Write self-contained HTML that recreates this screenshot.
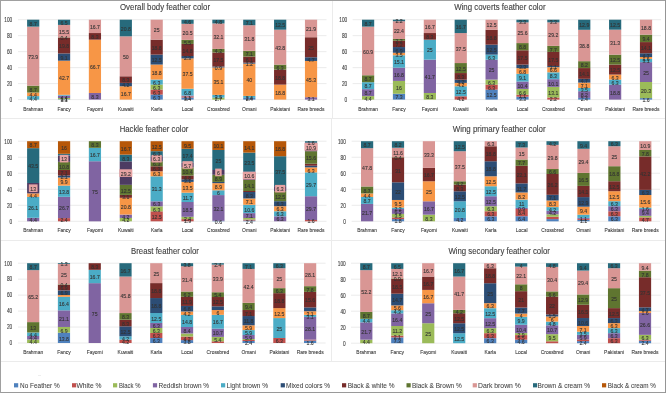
<!DOCTYPE html>
<html><head><meta charset="utf-8"><style>
html,body{margin:0;padding:0;background:#fff;width:666px;height:393px;overflow:hidden}
svg{display:block}
#wrap{width:666px;height:393px;will-change:transform}
text{font-family:"Liberation Sans",sans-serif}
</style></head><body><div id="wrap">
<svg width="666" height="393" viewBox="0 0 666 393">
<rect x='0' y='0' width='666' height='393' fill='#fff'/>
<rect x='332' y='0' width='1' height='118' fill='#EBEBEB'/>
<rect x='331' y='118' width='1' height='243' fill='#EBEBEB'/>
<rect x='1' y='118' width='664' height='1' fill='#EBEBEB'/>
<rect x='1' y='240' width='664' height='1' fill='#EBEBEB'/>
<rect x='1' y='361' width='664' height='1' fill='#EBEBEB'/>
<rect x='18.00' y='99.10' width='308.50' height='1' fill='#EBEBEB'/>
<text x='12.20' y='101.90' font-size='6.4' text-anchor='end' fill='#404040' textLength='2.64' lengthAdjust='spacingAndGlyphs' stroke='#404040' stroke-width='0.12'>0</text>
<rect x='18.00' y='83.12' width='308.50' height='1' fill='#EBEBEB'/>
<text x='12.20' y='85.92' font-size='6.4' text-anchor='end' fill='#404040' textLength='5.28' lengthAdjust='spacingAndGlyphs' stroke='#404040' stroke-width='0.12'>20</text>
<rect x='18.00' y='67.14' width='308.50' height='1' fill='#EBEBEB'/>
<text x='12.20' y='69.94' font-size='6.4' text-anchor='end' fill='#404040' textLength='5.28' lengthAdjust='spacingAndGlyphs' stroke='#404040' stroke-width='0.12'>40</text>
<rect x='18.00' y='51.16' width='308.50' height='1' fill='#EBEBEB'/>
<text x='12.20' y='53.96' font-size='6.4' text-anchor='end' fill='#404040' textLength='5.28' lengthAdjust='spacingAndGlyphs' stroke='#404040' stroke-width='0.12'>60</text>
<rect x='18.00' y='35.18' width='308.50' height='1' fill='#EBEBEB'/>
<text x='12.20' y='37.98' font-size='6.4' text-anchor='end' fill='#404040' textLength='5.28' lengthAdjust='spacingAndGlyphs' stroke='#404040' stroke-width='0.12'>80</text>
<rect x='18.00' y='19.20' width='308.50' height='1' fill='#EBEBEB'/>
<text x='12.20' y='22.00' font-size='6.4' text-anchor='end' fill='#404040' textLength='7.92' lengthAdjust='spacingAndGlyphs' stroke='#404040' stroke-width='0.12'>100</text>
<text x='120.00' y='9.80' font-size='8.8' text-anchor='start' fill='#404040' textLength='90.00' lengthAdjust='spacingAndGlyphs' stroke='#404040' stroke-width='0.12'>Overall body feather color</text>
<rect x='27.10' y='96.09' width='12.20' height='3.52' fill='#4BACC6'/>
<rect x='27.10' y='92.58' width='12.20' height='3.52' fill='#F79646'/>
<rect x='27.10' y='85.63' width='12.20' height='6.95' fill='#5F7530'/>
<rect x='27.10' y='26.64' width='12.20' height='59.00' fill='#D99694'/>
<rect x='27.10' y='19.70' width='12.20' height='6.95' fill='#276A7C'/>
<text x='33.20' y='100.54' font-size='6.0' text-anchor='middle' fill='#333333' textLength='7.17' lengthAdjust='spacingAndGlyphs' stroke='#333333' stroke-width='0.1'>4.4</text>
<text x='33.20' y='97.03' font-size='6.0' text-anchor='middle' fill='#333333' textLength='7.17' lengthAdjust='spacingAndGlyphs' stroke='#333333' stroke-width='0.1'>4.4</text>
<text x='33.20' y='91.80' font-size='6.0' text-anchor='middle' fill='#333333' textLength='7.17' lengthAdjust='spacingAndGlyphs' stroke='#333333' stroke-width='0.1'>8.7</text>
<text x='33.20' y='58.84' font-size='6.0' text-anchor='middle' fill='#333333' textLength='10.04' lengthAdjust='spacingAndGlyphs' stroke='#333333' stroke-width='0.1'>73.9</text>
<text x='33.20' y='25.87' font-size='6.0' text-anchor='middle' fill='#333333' textLength='7.17' lengthAdjust='spacingAndGlyphs' stroke='#333333' stroke-width='0.1'>8.7</text>
<text x='33.20' y='110.70' font-size='6.0' text-anchor='middle' fill='#404040' textLength='19.88' lengthAdjust='spacingAndGlyphs' stroke='#404040' stroke-width='0.12'>Brahman</text>
<rect x='57.97' y='99.20' width='12.20' height='0.41' fill='#4F81BD'/>
<rect x='57.97' y='98.00' width='12.20' height='1.21' fill='#9BBB59'/>
<rect x='57.97' y='95.60' width='12.20' height='2.41' fill='#8064A2'/>
<rect x='57.97' y='94.81' width='12.20' height='0.81' fill='#4BACC6'/>
<rect x='57.97' y='60.69' width='12.20' height='34.13' fill='#F79646'/>
<rect x='57.97' y='53.42' width='12.20' height='7.28' fill='#2C4D75'/>
<rect x='57.97' y='37.60' width='12.20' height='15.83' fill='#772C2A'/>
<rect x='57.97' y='37.28' width='12.20' height='0.33' fill='#5F7530'/>
<rect x='57.97' y='24.89' width='12.20' height='12.39' fill='#D99694'/>
<rect x='57.97' y='19.70' width='12.20' height='5.20' fill='#276A7C'/>
<text x='64.07' y='102.10' font-size='6.0' text-anchor='middle' fill='#333333' textLength='7.17' lengthAdjust='spacingAndGlyphs' stroke='#333333' stroke-width='0.1'>1.1</text>
<text x='64.07' y='101.30' font-size='6.0' text-anchor='middle' fill='#333333' textLength='7.17' lengthAdjust='spacingAndGlyphs' stroke='#333333' stroke-width='0.1'>1.1</text>
<text x='64.07' y='99.50' font-size='6.0' text-anchor='middle' fill='#333333' textLength='7.17' lengthAdjust='spacingAndGlyphs' stroke='#333333' stroke-width='0.1'>4.4</text>
<text x='64.07' y='80.45' font-size='6.0' text-anchor='middle' fill='#333333' textLength='10.04' lengthAdjust='spacingAndGlyphs' stroke='#333333' stroke-width='0.1'>42.7</text>
<text x='64.07' y='59.75' font-size='6.0' text-anchor='middle' fill='#333333' textLength='7.17' lengthAdjust='spacingAndGlyphs' stroke='#333333' stroke-width='0.1'>9.1</text>
<text x='64.07' y='48.21' font-size='6.0' text-anchor='middle' fill='#333333' textLength='10.04' lengthAdjust='spacingAndGlyphs' stroke='#333333' stroke-width='0.1'>19.8</text>
<text x='64.07' y='40.14' font-size='6.0' text-anchor='middle' fill='#333333' textLength='7.17' lengthAdjust='spacingAndGlyphs' stroke='#333333' stroke-width='0.1'>0.4</text>
<text x='64.07' y='33.79' font-size='6.0' text-anchor='middle' fill='#333333' textLength='10.04' lengthAdjust='spacingAndGlyphs' stroke='#333333' stroke-width='0.1'>15.5</text>
<text x='64.07' y='25.00' font-size='6.0' text-anchor='middle' fill='#333333' textLength='7.17' lengthAdjust='spacingAndGlyphs' stroke='#333333' stroke-width='0.1'>6.5</text>
<text x='64.07' y='110.70' font-size='6.0' text-anchor='middle' fill='#404040' textLength='13.34' lengthAdjust='spacingAndGlyphs' stroke='#404040' stroke-width='0.12'>Fancy</text>
<rect x='88.84' y='92.97' width='12.20' height='6.64' fill='#8064A2'/>
<rect x='88.84' y='39.68' width='12.20' height='53.30' fill='#F79646'/>
<rect x='88.84' y='33.04' width='12.20' height='6.64' fill='#772C2A'/>
<rect x='88.84' y='19.70' width='12.20' height='13.35' fill='#D99694'/>
<text x='94.94' y='98.98' font-size='6.0' text-anchor='middle' fill='#333333' textLength='7.17' lengthAdjust='spacingAndGlyphs' stroke='#333333' stroke-width='0.1'>8.3</text>
<text x='94.94' y='69.02' font-size='6.0' text-anchor='middle' fill='#333333' textLength='10.04' lengthAdjust='spacingAndGlyphs' stroke='#333333' stroke-width='0.1'>66.7</text>
<text x='94.94' y='39.06' font-size='6.0' text-anchor='middle' fill='#333333' textLength='7.17' lengthAdjust='spacingAndGlyphs' stroke='#333333' stroke-width='0.1'>8.3</text>
<text x='94.94' y='29.07' font-size='6.0' text-anchor='middle' fill='#333333' textLength='10.04' lengthAdjust='spacingAndGlyphs' stroke='#333333' stroke-width='0.1'>16.7</text>
<text x='94.94' y='110.70' font-size='6.0' text-anchor='middle' fill='#404040' textLength='16.06' lengthAdjust='spacingAndGlyphs' stroke='#404040' stroke-width='0.12'>Fayomi</text>
<rect x='119.71' y='86.26' width='12.20' height='13.35' fill='#F79646'/>
<rect x='119.71' y='82.90' width='12.20' height='3.37' fill='#2C4D75'/>
<rect x='119.71' y='76.27' width='12.20' height='6.64' fill='#772C2A'/>
<rect x='119.71' y='36.32' width='12.20' height='39.96' fill='#D99694'/>
<rect x='119.71' y='19.70' width='12.20' height='16.63' fill='#276A7C'/>
<text x='125.81' y='95.63' font-size='6.0' text-anchor='middle' fill='#333333' textLength='10.04' lengthAdjust='spacingAndGlyphs' stroke='#333333' stroke-width='0.1'>16.7</text>
<text x='125.81' y='87.28' font-size='6.0' text-anchor='middle' fill='#333333' textLength='7.17' lengthAdjust='spacingAndGlyphs' stroke='#333333' stroke-width='0.1'>4.2</text>
<text x='125.81' y='82.29' font-size='6.0' text-anchor='middle' fill='#333333' textLength='7.17' lengthAdjust='spacingAndGlyphs' stroke='#333333' stroke-width='0.1'>8.3</text>
<text x='125.81' y='58.99' font-size='6.0' text-anchor='middle' fill='#333333' textLength='5.74' lengthAdjust='spacingAndGlyphs' stroke='#333333' stroke-width='0.1'>50</text>
<text x='125.81' y='30.71' font-size='6.0' text-anchor='middle' fill='#333333' textLength='10.04' lengthAdjust='spacingAndGlyphs' stroke='#333333' stroke-width='0.1'>20.8</text>
<text x='125.81' y='110.70' font-size='6.0' text-anchor='middle' fill='#404040' textLength='15.80' lengthAdjust='spacingAndGlyphs' stroke='#404040' stroke-width='0.12'>Kuwaiti</text>
<rect x='150.58' y='94.58' width='12.20' height='5.03' fill='#4F81BD'/>
<rect x='150.58' y='89.56' width='12.20' height='5.03' fill='#C0504D'/>
<rect x='150.58' y='84.54' width='12.20' height='5.03' fill='#9BBB59'/>
<rect x='150.58' y='79.53' width='12.20' height='5.03' fill='#4BACC6'/>
<rect x='150.58' y='64.55' width='12.20' height='14.99' fill='#F79646'/>
<rect x='150.58' y='54.59' width='12.20' height='9.97' fill='#2C4D75'/>
<rect x='150.58' y='39.62' width='12.20' height='14.99' fill='#772C2A'/>
<rect x='150.58' y='19.70' width='12.20' height='19.93' fill='#D99694'/>
<text x='156.68' y='99.79' font-size='6.0' text-anchor='middle' fill='#333333' textLength='7.17' lengthAdjust='spacingAndGlyphs' stroke='#333333' stroke-width='0.1'>6.3</text>
<text x='156.68' y='94.77' font-size='6.0' text-anchor='middle' fill='#333333' textLength='7.17' lengthAdjust='spacingAndGlyphs' stroke='#333333' stroke-width='0.1'>6.3</text>
<text x='156.68' y='89.75' font-size='6.0' text-anchor='middle' fill='#333333' textLength='7.17' lengthAdjust='spacingAndGlyphs' stroke='#333333' stroke-width='0.1'>6.3</text>
<text x='156.68' y='84.73' font-size='6.0' text-anchor='middle' fill='#333333' textLength='7.17' lengthAdjust='spacingAndGlyphs' stroke='#333333' stroke-width='0.1'>6.3</text>
<text x='156.68' y='74.74' font-size='6.0' text-anchor='middle' fill='#333333' textLength='10.04' lengthAdjust='spacingAndGlyphs' stroke='#333333' stroke-width='0.1'>18.8</text>
<text x='156.68' y='62.27' font-size='6.0' text-anchor='middle' fill='#333333' textLength='10.04' lengthAdjust='spacingAndGlyphs' stroke='#333333' stroke-width='0.1'>12.5</text>
<text x='156.68' y='49.80' font-size='6.0' text-anchor='middle' fill='#333333' textLength='10.04' lengthAdjust='spacingAndGlyphs' stroke='#333333' stroke-width='0.1'>18.8</text>
<text x='156.68' y='32.36' font-size='6.0' text-anchor='middle' fill='#333333' textLength='5.74' lengthAdjust='spacingAndGlyphs' stroke='#333333' stroke-width='0.1'>25</text>
<text x='156.68' y='110.70' font-size='6.0' text-anchor='middle' fill='#404040' textLength='11.44' lengthAdjust='spacingAndGlyphs' stroke='#404040' stroke-width='0.12'>Karla</text>
<rect x='181.45' y='97.51' width='12.20' height='2.10' fill='#4F81BD'/>
<rect x='181.45' y='96.30' width='12.20' height='1.22' fill='#C0504D'/>
<rect x='181.45' y='95.50' width='12.20' height='0.81' fill='#8064A2'/>
<rect x='181.45' y='88.74' width='12.20' height='6.77' fill='#4BACC6'/>
<rect x='181.45' y='58.40' width='12.20' height='30.34' fill='#F79646'/>
<rect x='181.45' y='55.99' width='12.20' height='2.42' fill='#2C4D75'/>
<rect x='181.45' y='43.92' width='12.20' height='12.08' fill='#772C2A'/>
<rect x='181.45' y='39.90' width='12.20' height='4.03' fill='#5F7530'/>
<rect x='181.45' y='23.80' width='12.20' height='16.10' fill='#D99694'/>
<rect x='181.45' y='19.70' width='12.20' height='4.11' fill='#276A7C'/>
<text x='187.55' y='101.25' font-size='6.0' text-anchor='middle' fill='#333333' textLength='7.17' lengthAdjust='spacingAndGlyphs' stroke='#333333' stroke-width='0.1'>3.4</text>
<text x='187.55' y='99.60' font-size='6.0' text-anchor='middle' fill='#333333' textLength='7.17' lengthAdjust='spacingAndGlyphs' stroke='#333333' stroke-width='0.1'>1.1</text>
<text x='187.55' y='94.82' font-size='6.0' text-anchor='middle' fill='#333333' textLength='7.17' lengthAdjust='spacingAndGlyphs' stroke='#333333' stroke-width='0.1'>6.8</text>
<text x='187.55' y='76.27' font-size='6.0' text-anchor='middle' fill='#333333' textLength='10.04' lengthAdjust='spacingAndGlyphs' stroke='#333333' stroke-width='0.1'>37.5</text>
<text x='187.55' y='59.90' font-size='6.0' text-anchor='middle' fill='#333333' textLength='7.17' lengthAdjust='spacingAndGlyphs' stroke='#333333' stroke-width='0.1'>2.3</text>
<text x='187.55' y='52.65' font-size='6.0' text-anchor='middle' fill='#333333' textLength='10.04' lengthAdjust='spacingAndGlyphs' stroke='#333333' stroke-width='0.1'>14.8</text>
<text x='187.55' y='44.61' font-size='6.0' text-anchor='middle' fill='#333333' textLength='7.17' lengthAdjust='spacingAndGlyphs' stroke='#333333' stroke-width='0.1'>5.5</text>
<text x='187.55' y='34.55' font-size='6.0' text-anchor='middle' fill='#333333' textLength='10.04' lengthAdjust='spacingAndGlyphs' stroke='#333333' stroke-width='0.1'>20.5</text>
<text x='187.55' y='24.45' font-size='6.0' text-anchor='middle' fill='#333333' textLength='7.17' lengthAdjust='spacingAndGlyphs' stroke='#333333' stroke-width='0.1'>4.6</text>
<text x='187.55' y='110.70' font-size='6.0' text-anchor='middle' fill='#404040' textLength='11.71' lengthAdjust='spacingAndGlyphs' stroke='#404040' stroke-width='0.12'>Local</text>
<rect x='212.32' y='97.68' width='12.20' height='1.93' fill='#9BBB59'/>
<rect x='212.32' y='94.88' width='12.20' height='2.81' fill='#4BACC6'/>
<rect x='212.32' y='67.42' width='12.20' height='27.47' fill='#F79646'/>
<rect x='212.32' y='66.54' width='12.20' height='0.89' fill='#2C4D75'/>
<rect x='212.32' y='52.52' width='12.20' height='14.02' fill='#772C2A'/>
<rect x='212.32' y='48.92' width='12.20' height='3.61' fill='#5F7530'/>
<rect x='212.32' y='23.46' width='12.20' height='25.47' fill='#D99694'/>
<rect x='212.32' y='19.70' width='12.20' height='3.77' fill='#276A7C'/>
<text x='218.42' y='101.34' font-size='6.0' text-anchor='middle' fill='#333333' textLength='7.17' lengthAdjust='spacingAndGlyphs' stroke='#333333' stroke-width='0.1'>2.7</text>
<text x='218.42' y='98.98' font-size='6.0' text-anchor='middle' fill='#333333' textLength='7.17' lengthAdjust='spacingAndGlyphs' stroke='#333333' stroke-width='0.1'>3.5</text>
<text x='218.42' y='83.85' font-size='6.0' text-anchor='middle' fill='#333333' textLength='10.04' lengthAdjust='spacingAndGlyphs' stroke='#333333' stroke-width='0.1'>35.1</text>
<text x='218.42' y='69.68' font-size='6.0' text-anchor='middle' fill='#333333' textLength='7.17' lengthAdjust='spacingAndGlyphs' stroke='#333333' stroke-width='0.1'>0.9</text>
<text x='218.42' y='62.23' font-size='6.0' text-anchor='middle' fill='#333333' textLength='10.04' lengthAdjust='spacingAndGlyphs' stroke='#333333' stroke-width='0.1'>17.5</text>
<text x='218.42' y='53.42' font-size='6.0' text-anchor='middle' fill='#333333' textLength='7.17' lengthAdjust='spacingAndGlyphs' stroke='#333333' stroke-width='0.1'>4.2</text>
<text x='218.42' y='38.89' font-size='6.0' text-anchor='middle' fill='#333333' textLength='10.04' lengthAdjust='spacingAndGlyphs' stroke='#333333' stroke-width='0.1'>32.1</text>
<text x='218.42' y='24.28' font-size='6.0' text-anchor='middle' fill='#333333' textLength='7.17' lengthAdjust='spacingAndGlyphs' stroke='#333333' stroke-width='0.1'>4.8</text>
<text x='218.42' y='110.70' font-size='6.0' text-anchor='middle' fill='#404040' textLength='22.60' lengthAdjust='spacingAndGlyphs' stroke='#404040' stroke-width='0.12'>Crossbred</text>
<rect x='243.19' y='97.83' width='12.20' height='1.78' fill='#4F81BD'/>
<rect x='243.19' y='95.91' width='12.20' height='1.94' fill='#4BACC6'/>
<rect x='243.19' y='63.62' width='12.20' height='32.29' fill='#F79646'/>
<rect x='243.19' y='62.66' width='12.20' height='0.97' fill='#2C4D75'/>
<rect x='243.19' y='56.56' width='12.20' height='6.11' fill='#772C2A'/>
<rect x='243.19' y='50.78' width='12.20' height='5.79' fill='#5F7530'/>
<rect x='243.19' y='25.24' width='12.20' height='25.55' fill='#D99694'/>
<rect x='243.19' y='19.70' width='12.20' height='5.55' fill='#276A7C'/>
<text x='249.29' y='101.42' font-size='6.0' text-anchor='middle' fill='#333333' textLength='7.17' lengthAdjust='spacingAndGlyphs' stroke='#333333' stroke-width='0.1'>2.4</text>
<text x='249.29' y='99.57' font-size='6.0' text-anchor='middle' fill='#333333' textLength='7.17' lengthAdjust='spacingAndGlyphs' stroke='#333333' stroke-width='0.1'>2.4</text>
<text x='249.29' y='82.47' font-size='6.0' text-anchor='middle' fill='#333333' textLength='5.74' lengthAdjust='spacingAndGlyphs' stroke='#333333' stroke-width='0.1'>40</text>
<text x='249.29' y='65.84' font-size='6.0' text-anchor='middle' fill='#333333' textLength='7.17' lengthAdjust='spacingAndGlyphs' stroke='#333333' stroke-width='0.1'>1.2</text>
<text x='249.29' y='62.31' font-size='6.0' text-anchor='middle' fill='#333333' textLength='7.17' lengthAdjust='spacingAndGlyphs' stroke='#333333' stroke-width='0.1'>6.1</text>
<text x='249.29' y='56.37' font-size='6.0' text-anchor='middle' fill='#333333' textLength='7.17' lengthAdjust='spacingAndGlyphs' stroke='#333333' stroke-width='0.1'>7.1</text>
<text x='249.29' y='40.71' font-size='6.0' text-anchor='middle' fill='#333333' textLength='10.04' lengthAdjust='spacingAndGlyphs' stroke='#333333' stroke-width='0.1'>31.8</text>
<text x='249.29' y='25.17' font-size='6.0' text-anchor='middle' fill='#333333' textLength='7.17' lengthAdjust='spacingAndGlyphs' stroke='#333333' stroke-width='0.1'>7.1</text>
<text x='249.29' y='110.70' font-size='6.0' text-anchor='middle' fill='#404040' textLength='14.43' lengthAdjust='spacingAndGlyphs' stroke='#404040' stroke-width='0.12'>Omani</text>
<rect x='274.06' y='84.61' width='12.20' height='15.00' fill='#F79646'/>
<rect x='274.06' y='69.62' width='12.20' height='15.00' fill='#772C2A'/>
<rect x='274.06' y='64.59' width='12.20' height='5.03' fill='#5F7530'/>
<rect x='274.06' y='29.67' width='12.20' height='34.94' fill='#D99694'/>
<rect x='274.06' y='19.70' width='12.20' height='9.98' fill='#276A7C'/>
<text x='280.16' y='94.80' font-size='6.0' text-anchor='middle' fill='#333333' textLength='10.04' lengthAdjust='spacingAndGlyphs' stroke='#333333' stroke-width='0.1'>18.8</text>
<text x='280.16' y='79.81' font-size='6.0' text-anchor='middle' fill='#333333' textLength='10.04' lengthAdjust='spacingAndGlyphs' stroke='#333333' stroke-width='0.1'>18.8</text>
<text x='280.16' y='69.81' font-size='6.0' text-anchor='middle' fill='#333333' textLength='7.17' lengthAdjust='spacingAndGlyphs' stroke='#333333' stroke-width='0.1'>6.3</text>
<text x='280.16' y='49.83' font-size='6.0' text-anchor='middle' fill='#333333' textLength='10.04' lengthAdjust='spacingAndGlyphs' stroke='#333333' stroke-width='0.1'>43.8</text>
<text x='280.16' y='27.38' font-size='6.0' text-anchor='middle' fill='#333333' textLength='10.04' lengthAdjust='spacingAndGlyphs' stroke='#333333' stroke-width='0.1'>12.5</text>
<text x='280.16' y='110.70' font-size='6.0' text-anchor='middle' fill='#404040' textLength='19.88' lengthAdjust='spacingAndGlyphs' stroke='#404040' stroke-width='0.12'>Pakistani</text>
<rect x='304.93' y='97.20' width='12.20' height='2.41' fill='#8064A2'/>
<rect x='304.93' y='60.93' width='12.20' height='36.28' fill='#F79646'/>
<rect x='304.93' y='57.25' width='12.20' height='3.69' fill='#2C4D75'/>
<rect x='304.93' y='37.23' width='12.20' height='20.03' fill='#772C2A'/>
<rect x='304.93' y='19.70' width='12.20' height='17.54' fill='#D99694'/>
<text x='311.03' y='101.10' font-size='6.0' text-anchor='middle' fill='#333333' textLength='7.17' lengthAdjust='spacingAndGlyphs' stroke='#333333' stroke-width='0.1'>3.1</text>
<text x='311.03' y='81.76' font-size='6.0' text-anchor='middle' fill='#333333' textLength='10.04' lengthAdjust='spacingAndGlyphs' stroke='#333333' stroke-width='0.1'>45.3</text>
<text x='311.03' y='61.79' font-size='6.0' text-anchor='middle' fill='#333333' textLength='7.17' lengthAdjust='spacingAndGlyphs' stroke='#333333' stroke-width='0.1'>4.7</text>
<text x='311.03' y='49.94' font-size='6.0' text-anchor='middle' fill='#333333' textLength='5.74' lengthAdjust='spacingAndGlyphs' stroke='#333333' stroke-width='0.1'>25</text>
<text x='311.03' y='31.17' font-size='6.0' text-anchor='middle' fill='#333333' textLength='10.04' lengthAdjust='spacingAndGlyphs' stroke='#333333' stroke-width='0.1'>21.9</text>
<text x='311.03' y='110.70' font-size='6.0' text-anchor='middle' fill='#404040' textLength='26.96' lengthAdjust='spacingAndGlyphs' stroke='#404040' stroke-width='0.12'>Rare breeds</text>
<rect x='352.60' y='99.10' width='308.40' height='1' fill='#EBEBEB'/>
<text x='347.20' y='101.90' font-size='6.4' text-anchor='end' fill='#404040' textLength='2.64' lengthAdjust='spacingAndGlyphs' stroke='#404040' stroke-width='0.12'>0</text>
<rect x='352.60' y='83.12' width='308.40' height='1' fill='#EBEBEB'/>
<text x='347.20' y='85.92' font-size='6.4' text-anchor='end' fill='#404040' textLength='5.28' lengthAdjust='spacingAndGlyphs' stroke='#404040' stroke-width='0.12'>20</text>
<rect x='352.60' y='67.14' width='308.40' height='1' fill='#EBEBEB'/>
<text x='347.20' y='69.94' font-size='6.4' text-anchor='end' fill='#404040' textLength='5.28' lengthAdjust='spacingAndGlyphs' stroke='#404040' stroke-width='0.12'>40</text>
<rect x='352.60' y='51.16' width='308.40' height='1' fill='#EBEBEB'/>
<text x='347.20' y='53.96' font-size='6.4' text-anchor='end' fill='#404040' textLength='5.28' lengthAdjust='spacingAndGlyphs' stroke='#404040' stroke-width='0.12'>60</text>
<rect x='352.60' y='35.18' width='308.40' height='1' fill='#EBEBEB'/>
<text x='347.20' y='37.98' font-size='6.4' text-anchor='end' fill='#404040' textLength='5.28' lengthAdjust='spacingAndGlyphs' stroke='#404040' stroke-width='0.12'>80</text>
<rect x='352.60' y='19.20' width='308.40' height='1' fill='#EBEBEB'/>
<text x='347.20' y='22.00' font-size='6.4' text-anchor='end' fill='#404040' textLength='7.92' lengthAdjust='spacingAndGlyphs' stroke='#404040' stroke-width='0.12'>100</text>
<text x='454.20' y='10.00' font-size='8.8' text-anchor='start' fill='#404040' textLength='91.40' lengthAdjust='spacingAndGlyphs' stroke='#404040' stroke-width='0.12'>Wing coverts feather color</text>
<rect x='362.00' y='96.09' width='12.20' height='3.52' fill='#9BBB59'/>
<rect x='362.00' y='89.14' width='12.20' height='6.95' fill='#8064A2'/>
<rect x='362.00' y='82.20' width='12.20' height='6.95' fill='#4BACC6'/>
<rect x='362.00' y='75.25' width='12.20' height='6.95' fill='#5F7530'/>
<rect x='362.00' y='26.64' width='12.20' height='48.62' fill='#D99694'/>
<rect x='362.00' y='19.70' width='12.20' height='6.95' fill='#276A7C'/>
<text x='368.10' y='100.54' font-size='6.0' text-anchor='middle' fill='#333333' textLength='7.17' lengthAdjust='spacingAndGlyphs' stroke='#333333' stroke-width='0.1'>4.4</text>
<text x='368.10' y='95.32' font-size='6.0' text-anchor='middle' fill='#333333' textLength='7.17' lengthAdjust='spacingAndGlyphs' stroke='#333333' stroke-width='0.1'>8.7</text>
<text x='368.10' y='88.37' font-size='6.0' text-anchor='middle' fill='#333333' textLength='7.17' lengthAdjust='spacingAndGlyphs' stroke='#333333' stroke-width='0.1'>8.7</text>
<text x='368.10' y='81.43' font-size='6.0' text-anchor='middle' fill='#333333' textLength='7.17' lengthAdjust='spacingAndGlyphs' stroke='#333333' stroke-width='0.1'>8.7</text>
<text x='368.10' y='53.65' font-size='6.0' text-anchor='middle' fill='#333333' textLength='10.04' lengthAdjust='spacingAndGlyphs' stroke='#333333' stroke-width='0.1'>60.9</text>
<text x='368.10' y='25.87' font-size='6.0' text-anchor='middle' fill='#333333' textLength='7.17' lengthAdjust='spacingAndGlyphs' stroke='#333333' stroke-width='0.1'>8.7</text>
<text x='368.10' y='110.70' font-size='6.0' text-anchor='middle' fill='#404040' textLength='19.88' lengthAdjust='spacingAndGlyphs' stroke='#404040' stroke-width='0.12'>Brahman</text>
<rect x='392.88' y='93.74' width='12.20' height='5.87' fill='#4F81BD'/>
<rect x='392.88' y='80.91' width='12.20' height='12.85' fill='#9BBB59'/>
<rect x='392.88' y='67.67' width='12.20' height='13.25' fill='#8064A2'/>
<rect x='392.88' y='55.24' width='12.20' height='12.44' fill='#4BACC6'/>
<rect x='392.88' y='52.75' width='12.20' height='2.50' fill='#F79646'/>
<rect x='392.88' y='47.06' width='12.20' height='5.71' fill='#2C4D75'/>
<rect x='392.88' y='40.72' width='12.20' height='6.35' fill='#772C2A'/>
<rect x='392.88' y='38.95' width='12.20' height='1.77' fill='#5F7530'/>
<rect x='392.88' y='21.22' width='12.20' height='17.74' fill='#D99694'/>
<rect x='392.88' y='19.70' width='12.20' height='1.53' fill='#276A7C'/>
<text x='398.98' y='99.37' font-size='6.0' text-anchor='middle' fill='#333333' textLength='7.17' lengthAdjust='spacingAndGlyphs' stroke='#333333' stroke-width='0.1'>7.3</text>
<text x='398.98' y='90.03' font-size='6.0' text-anchor='middle' fill='#333333' textLength='5.74' lengthAdjust='spacingAndGlyphs' stroke='#333333' stroke-width='0.1'>16</text>
<text x='398.98' y='76.99' font-size='6.0' text-anchor='middle' fill='#333333' textLength='10.04' lengthAdjust='spacingAndGlyphs' stroke='#333333' stroke-width='0.1'>16.8</text>
<text x='398.98' y='64.15' font-size='6.0' text-anchor='middle' fill='#333333' textLength='10.04' lengthAdjust='spacingAndGlyphs' stroke='#333333' stroke-width='0.1'>15.1</text>
<text x='398.98' y='56.69' font-size='6.0' text-anchor='middle' fill='#333333' textLength='7.17' lengthAdjust='spacingAndGlyphs' stroke='#333333' stroke-width='0.1'>3.5</text>
<text x='398.98' y='52.60' font-size='6.0' text-anchor='middle' fill='#333333' textLength='7.17' lengthAdjust='spacingAndGlyphs' stroke='#333333' stroke-width='0.1'>6.9</text>
<text x='398.98' y='46.59' font-size='6.0' text-anchor='middle' fill='#333333' textLength='7.17' lengthAdjust='spacingAndGlyphs' stroke='#333333' stroke-width='0.1'>7.2</text>
<text x='398.98' y='42.54' font-size='6.0' text-anchor='middle' fill='#333333' textLength='7.17' lengthAdjust='spacingAndGlyphs' stroke='#333333' stroke-width='0.1'>2.2</text>
<text x='398.98' y='32.79' font-size='6.0' text-anchor='middle' fill='#333333' textLength='10.04' lengthAdjust='spacingAndGlyphs' stroke='#333333' stroke-width='0.1'>22.4</text>
<text x='398.98' y='23.16' font-size='6.0' text-anchor='middle' fill='#333333' textLength='7.17' lengthAdjust='spacingAndGlyphs' stroke='#333333' stroke-width='0.1'>2.2</text>
<text x='398.98' y='110.70' font-size='6.0' text-anchor='middle' fill='#404040' textLength='13.34' lengthAdjust='spacingAndGlyphs' stroke='#404040' stroke-width='0.12'>Fancy</text>
<rect x='423.76' y='92.97' width='12.20' height='6.64' fill='#9BBB59'/>
<rect x='423.76' y='59.65' width='12.20' height='33.33' fill='#8064A2'/>
<rect x='423.76' y='39.67' width='12.20' height='19.98' fill='#4BACC6'/>
<rect x='423.76' y='33.04' width='12.20' height='6.64' fill='#772C2A'/>
<rect x='423.76' y='19.70' width='12.20' height='13.35' fill='#D99694'/>
<text x='429.86' y='98.98' font-size='6.0' text-anchor='middle' fill='#333333' textLength='7.17' lengthAdjust='spacingAndGlyphs' stroke='#333333' stroke-width='0.1'>8.3</text>
<text x='429.86' y='79.01' font-size='6.0' text-anchor='middle' fill='#333333' textLength='10.04' lengthAdjust='spacingAndGlyphs' stroke='#333333' stroke-width='0.1'>41.7</text>
<text x='429.86' y='52.36' font-size='6.0' text-anchor='middle' fill='#333333' textLength='5.74' lengthAdjust='spacingAndGlyphs' stroke='#333333' stroke-width='0.1'>25</text>
<text x='429.86' y='39.06' font-size='6.0' text-anchor='middle' fill='#333333' textLength='7.17' lengthAdjust='spacingAndGlyphs' stroke='#333333' stroke-width='0.1'>8.3</text>
<text x='429.86' y='29.07' font-size='6.0' text-anchor='middle' fill='#333333' textLength='10.04' lengthAdjust='spacingAndGlyphs' stroke='#333333' stroke-width='0.1'>16.7</text>
<text x='429.86' y='110.70' font-size='6.0' text-anchor='middle' fill='#404040' textLength='16.06' lengthAdjust='spacingAndGlyphs' stroke='#404040' stroke-width='0.12'>Fayomi</text>
<rect x='454.64' y='96.24' width='12.20' height='3.37' fill='#C0504D'/>
<rect x='454.64' y='86.24' width='12.20' height='10.01' fill='#4BACC6'/>
<rect x='454.64' y='82.88' width='12.20' height='3.37' fill='#F79646'/>
<rect x='454.64' y='79.68' width='12.20' height='3.21' fill='#2C4D75'/>
<rect x='454.64' y='73.05' width='12.20' height='6.65' fill='#772C2A'/>
<rect x='454.64' y='63.05' width='12.20' height='10.01' fill='#5F7530'/>
<rect x='454.64' y='33.06' width='12.20' height='30.00' fill='#D99694'/>
<rect x='454.64' y='19.70' width='12.20' height='13.37' fill='#276A7C'/>
<text x='460.74' y='100.62' font-size='6.0' text-anchor='middle' fill='#333333' textLength='7.17' lengthAdjust='spacingAndGlyphs' stroke='#333333' stroke-width='0.1'>4.2</text>
<text x='460.74' y='93.94' font-size='6.0' text-anchor='middle' fill='#333333' textLength='10.04' lengthAdjust='spacingAndGlyphs' stroke='#333333' stroke-width='0.1'>12.5</text>
<text x='460.74' y='87.26' font-size='6.0' text-anchor='middle' fill='#333333' textLength='7.17' lengthAdjust='spacingAndGlyphs' stroke='#333333' stroke-width='0.1'>4.2</text>
<text x='460.74' y='83.98' font-size='6.0' text-anchor='middle' fill='#333333' textLength='7.17' lengthAdjust='spacingAndGlyphs' stroke='#333333' stroke-width='0.1'>4.2</text>
<text x='460.74' y='79.07' font-size='6.0' text-anchor='middle' fill='#333333' textLength='7.17' lengthAdjust='spacingAndGlyphs' stroke='#333333' stroke-width='0.1'>8.3</text>
<text x='460.74' y='70.75' font-size='6.0' text-anchor='middle' fill='#333333' textLength='10.04' lengthAdjust='spacingAndGlyphs' stroke='#333333' stroke-width='0.1'>12.5</text>
<text x='460.74' y='50.75' font-size='6.0' text-anchor='middle' fill='#333333' textLength='10.04' lengthAdjust='spacingAndGlyphs' stroke='#333333' stroke-width='0.1'>37.5</text>
<text x='460.74' y='29.08' font-size='6.0' text-anchor='middle' fill='#333333' textLength='10.04' lengthAdjust='spacingAndGlyphs' stroke='#333333' stroke-width='0.1'>16.7</text>
<text x='460.74' y='110.70' font-size='6.0' text-anchor='middle' fill='#404040' textLength='15.80' lengthAdjust='spacingAndGlyphs' stroke='#404040' stroke-width='0.12'>Kuwaiti</text>
<rect x='485.52' y='89.63' width='12.20' height='9.98' fill='#4F81BD'/>
<rect x='485.52' y='84.61' width='12.20' height='5.03' fill='#C0504D'/>
<rect x='485.52' y='79.59' width='12.20' height='5.03' fill='#9BBB59'/>
<rect x='485.52' y='59.65' width='12.20' height='19.95' fill='#8064A2'/>
<rect x='485.52' y='54.63' width='12.20' height='5.03' fill='#4BACC6'/>
<rect x='485.52' y='44.66' width='12.20' height='9.98' fill='#2C4D75'/>
<rect x='485.52' y='29.67' width='12.20' height='15.00' fill='#772C2A'/>
<rect x='485.52' y='19.70' width='12.20' height='9.98' fill='#D99694'/>
<text x='491.62' y='97.32' font-size='6.0' text-anchor='middle' fill='#333333' textLength='10.04' lengthAdjust='spacingAndGlyphs' stroke='#333333' stroke-width='0.1'>12.5</text>
<text x='491.62' y='89.82' font-size='6.0' text-anchor='middle' fill='#333333' textLength='7.17' lengthAdjust='spacingAndGlyphs' stroke='#333333' stroke-width='0.1'>6.3</text>
<text x='491.62' y='84.80' font-size='6.0' text-anchor='middle' fill='#333333' textLength='7.17' lengthAdjust='spacingAndGlyphs' stroke='#333333' stroke-width='0.1'>6.3</text>
<text x='491.62' y='72.32' font-size='6.0' text-anchor='middle' fill='#333333' textLength='5.74' lengthAdjust='spacingAndGlyphs' stroke='#333333' stroke-width='0.1'>25</text>
<text x='491.62' y='59.84' font-size='6.0' text-anchor='middle' fill='#333333' textLength='7.17' lengthAdjust='spacingAndGlyphs' stroke='#333333' stroke-width='0.1'>6.3</text>
<text x='491.62' y='52.34' font-size='6.0' text-anchor='middle' fill='#333333' textLength='10.04' lengthAdjust='spacingAndGlyphs' stroke='#333333' stroke-width='0.1'>12.5</text>
<text x='491.62' y='39.86' font-size='6.0' text-anchor='middle' fill='#333333' textLength='10.04' lengthAdjust='spacingAndGlyphs' stroke='#333333' stroke-width='0.1'>18.8</text>
<text x='491.62' y='27.38' font-size='6.0' text-anchor='middle' fill='#333333' textLength='10.04' lengthAdjust='spacingAndGlyphs' stroke='#333333' stroke-width='0.1'>12.5</text>
<text x='491.62' y='110.70' font-size='6.0' text-anchor='middle' fill='#404040' textLength='11.44' lengthAdjust='spacingAndGlyphs' stroke='#404040' stroke-width='0.12'>Karla</text>
<rect x='516.40' y='96.72' width='12.20' height='2.89' fill='#4F81BD'/>
<rect x='516.40' y='94.72' width='12.20' height='2.01' fill='#C0504D'/>
<rect x='516.40' y='88.95' width='12.20' height='5.77' fill='#9BBB59'/>
<rect x='516.40' y='81.51' width='12.20' height='7.46' fill='#8064A2'/>
<rect x='516.40' y='73.82' width='12.20' height='7.70' fill='#4BACC6'/>
<rect x='516.40' y='68.14' width='12.20' height='5.69' fill='#F79646'/>
<rect x='516.40' y='64.61' width='12.20' height='3.53' fill='#2C4D75'/>
<rect x='516.40' y='50.28' width='12.20' height='14.34' fill='#772C2A'/>
<rect x='516.40' y='43.08' width='12.20' height='7.22' fill='#5F7530'/>
<rect x='516.40' y='22.34' width='12.20' height='20.75' fill='#D99694'/>
<rect x='516.40' y='19.70' width='12.20' height='2.65' fill='#276A7C'/>
<text x='522.50' y='100.86' font-size='6.0' text-anchor='middle' fill='#333333' textLength='7.17' lengthAdjust='spacingAndGlyphs' stroke='#333333' stroke-width='0.1'>3.3</text>
<text x='522.50' y='98.42' font-size='6.0' text-anchor='middle' fill='#333333' textLength='7.17' lengthAdjust='spacingAndGlyphs' stroke='#333333' stroke-width='0.1'>1.1</text>
<text x='522.50' y='94.53' font-size='6.0' text-anchor='middle' fill='#333333' textLength='7.17' lengthAdjust='spacingAndGlyphs' stroke='#333333' stroke-width='0.1'>6.6</text>
<text x='522.50' y='87.93' font-size='6.0' text-anchor='middle' fill='#333333' textLength='10.04' lengthAdjust='spacingAndGlyphs' stroke='#333333' stroke-width='0.1'>10.4</text>
<text x='522.50' y='80.36' font-size='6.0' text-anchor='middle' fill='#333333' textLength='7.17' lengthAdjust='spacingAndGlyphs' stroke='#333333' stroke-width='0.1'>9.1</text>
<text x='522.50' y='73.68' font-size='6.0' text-anchor='middle' fill='#333333' textLength='7.17' lengthAdjust='spacingAndGlyphs' stroke='#333333' stroke-width='0.1'>6.8</text>
<text x='522.50' y='69.08' font-size='6.0' text-anchor='middle' fill='#333333' textLength='7.17' lengthAdjust='spacingAndGlyphs' stroke='#333333' stroke-width='0.1'>3.3</text>
<text x='522.50' y='60.15' font-size='6.0' text-anchor='middle' fill='#333333' textLength='10.04' lengthAdjust='spacingAndGlyphs' stroke='#333333' stroke-width='0.1'>17.5</text>
<text x='522.50' y='49.38' font-size='6.0' text-anchor='middle' fill='#333333' textLength='7.17' lengthAdjust='spacingAndGlyphs' stroke='#333333' stroke-width='0.1'>8.8</text>
<text x='522.50' y='35.41' font-size='6.0' text-anchor='middle' fill='#333333' textLength='10.04' lengthAdjust='spacingAndGlyphs' stroke='#333333' stroke-width='0.1'>25.6</text>
<text x='522.50' y='23.72' font-size='6.0' text-anchor='middle' fill='#333333' textLength='7.17' lengthAdjust='spacingAndGlyphs' stroke='#333333' stroke-width='0.1'>3.3</text>
<text x='522.50' y='110.70' font-size='6.0' text-anchor='middle' fill='#404040' textLength='11.71' lengthAdjust='spacingAndGlyphs' stroke='#404040' stroke-width='0.12'>Local</text>
<rect x='547.28' y='97.52' width='12.20' height='2.09' fill='#C0504D'/>
<rect x='547.28' y='86.87' width='12.20' height='10.66' fill='#9BBB59'/>
<rect x='547.28' y='79.18' width='12.20' height='7.70' fill='#8064A2'/>
<rect x='547.28' y='72.30' width='12.20' height='6.90' fill='#4BACC6'/>
<rect x='547.28' y='67.18' width='12.20' height='5.13' fill='#F79646'/>
<rect x='547.28' y='65.97' width='12.20' height='1.21' fill='#2C4D75'/>
<rect x='547.28' y='51.88' width='12.20' height='14.10' fill='#772C2A'/>
<rect x='547.28' y='45.88' width='12.20' height='6.01' fill='#5F7530'/>
<rect x='547.28' y='22.34' width='12.20' height='23.55' fill='#D99694'/>
<rect x='547.28' y='19.70' width='12.20' height='2.65' fill='#276A7C'/>
<text x='553.38' y='101.26' font-size='6.0' text-anchor='middle' fill='#333333' textLength='7.17' lengthAdjust='spacingAndGlyphs' stroke='#333333' stroke-width='0.1'>2.2</text>
<text x='553.38' y='94.89' font-size='6.0' text-anchor='middle' fill='#333333' textLength='10.04' lengthAdjust='spacingAndGlyphs' stroke='#333333' stroke-width='0.1'>13.1</text>
<text x='553.38' y='85.73' font-size='6.0' text-anchor='middle' fill='#333333' textLength='10.04' lengthAdjust='spacingAndGlyphs' stroke='#333333' stroke-width='0.1'>10.1</text>
<text x='553.38' y='78.44' font-size='6.0' text-anchor='middle' fill='#333333' textLength='7.17' lengthAdjust='spacingAndGlyphs' stroke='#333333' stroke-width='0.1'>8.3</text>
<text x='553.38' y='72.44' font-size='6.0' text-anchor='middle' fill='#333333' textLength='7.17' lengthAdjust='spacingAndGlyphs' stroke='#333333' stroke-width='0.1'>6.6</text>
<text x='553.38' y='69.28' font-size='6.0' text-anchor='middle' fill='#333333' textLength='7.17' lengthAdjust='spacingAndGlyphs' stroke='#333333' stroke-width='0.1'>1.1</text>
<text x='553.38' y='61.63' font-size='6.0' text-anchor='middle' fill='#333333' textLength='10.04' lengthAdjust='spacingAndGlyphs' stroke='#333333' stroke-width='0.1'>17.5</text>
<text x='553.38' y='51.58' font-size='6.0' text-anchor='middle' fill='#333333' textLength='7.17' lengthAdjust='spacingAndGlyphs' stroke='#333333' stroke-width='0.1'>7.7</text>
<text x='553.38' y='36.81' font-size='6.0' text-anchor='middle' fill='#333333' textLength='10.04' lengthAdjust='spacingAndGlyphs' stroke='#333333' stroke-width='0.1'>29.2</text>
<text x='553.38' y='23.72' font-size='6.0' text-anchor='middle' fill='#333333' textLength='7.17' lengthAdjust='spacingAndGlyphs' stroke='#333333' stroke-width='0.1'>3.3</text>
<text x='553.38' y='110.70' font-size='6.0' text-anchor='middle' fill='#404040' textLength='22.60' lengthAdjust='spacingAndGlyphs' stroke='#404040' stroke-width='0.12'>Crossbred</text>
<rect x='578.16' y='97.92' width='12.20' height='1.69' fill='#4F81BD'/>
<rect x='578.16' y='91.18' width='12.20' height='6.75' fill='#8064A2'/>
<rect x='578.16' y='87.97' width='12.20' height='3.22' fill='#4BACC6'/>
<rect x='578.16' y='82.59' width='12.20' height='5.38' fill='#F79646'/>
<rect x='578.16' y='78.82' width='12.20' height='3.78' fill='#2C4D75'/>
<rect x='578.16' y='68.07' width='12.20' height='10.76' fill='#772C2A'/>
<rect x='578.16' y='61.17' width='12.20' height='6.91' fill='#5F7530'/>
<rect x='578.16' y='29.81' width='12.20' height='31.38' fill='#D99694'/>
<rect x='578.16' y='19.70' width='12.20' height='10.12' fill='#276A7C'/>
<text x='584.26' y='101.46' font-size='6.0' text-anchor='middle' fill='#333333' textLength='7.17' lengthAdjust='spacingAndGlyphs' stroke='#333333' stroke-width='0.1'>2.4</text>
<text x='584.26' y='97.25' font-size='6.0' text-anchor='middle' fill='#333333' textLength='7.17' lengthAdjust='spacingAndGlyphs' stroke='#333333' stroke-width='0.1'>8.2</text>
<text x='584.26' y='92.27' font-size='6.0' text-anchor='middle' fill='#333333' textLength='7.17' lengthAdjust='spacingAndGlyphs' stroke='#333333' stroke-width='0.1'>3.5</text>
<text x='584.26' y='87.98' font-size='6.0' text-anchor='middle' fill='#333333' textLength='7.17' lengthAdjust='spacingAndGlyphs' stroke='#333333' stroke-width='0.1'>7.1</text>
<text x='584.26' y='83.41' font-size='6.0' text-anchor='middle' fill='#333333' textLength='7.17' lengthAdjust='spacingAndGlyphs' stroke='#333333' stroke-width='0.1'>4.7</text>
<text x='584.26' y='76.15' font-size='6.0' text-anchor='middle' fill='#333333' textLength='10.04' lengthAdjust='spacingAndGlyphs' stroke='#333333' stroke-width='0.1'>14.1</text>
<text x='584.26' y='67.32' font-size='6.0' text-anchor='middle' fill='#333333' textLength='7.17' lengthAdjust='spacingAndGlyphs' stroke='#333333' stroke-width='0.1'>8.2</text>
<text x='584.26' y='48.19' font-size='6.0' text-anchor='middle' fill='#333333' textLength='10.04' lengthAdjust='spacingAndGlyphs' stroke='#333333' stroke-width='0.1'>38.8</text>
<text x='584.26' y='27.45' font-size='6.0' text-anchor='middle' fill='#333333' textLength='10.04' lengthAdjust='spacingAndGlyphs' stroke='#333333' stroke-width='0.1'>12.9</text>
<text x='584.26' y='110.70' font-size='6.0' text-anchor='middle' fill='#404040' textLength='14.43' lengthAdjust='spacingAndGlyphs' stroke='#404040' stroke-width='0.12'>Omani</text>
<rect x='609.04' y='84.61' width='12.20' height='15.00' fill='#8064A2'/>
<rect x='609.04' y='79.59' width='12.20' height='5.03' fill='#4BACC6'/>
<rect x='609.04' y='74.56' width='12.20' height='5.03' fill='#F79646'/>
<rect x='609.04' y='64.59' width='12.20' height='9.98' fill='#772C2A'/>
<rect x='609.04' y='54.63' width='12.20' height='9.98' fill='#5F7530'/>
<rect x='609.04' y='29.67' width='12.20' height='24.97' fill='#D99694'/>
<rect x='609.04' y='19.70' width='12.20' height='9.98' fill='#276A7C'/>
<text x='615.14' y='94.80' font-size='6.0' text-anchor='middle' fill='#333333' textLength='10.04' lengthAdjust='spacingAndGlyphs' stroke='#333333' stroke-width='0.1'>18.8</text>
<text x='615.14' y='84.80' font-size='6.0' text-anchor='middle' fill='#333333' textLength='7.17' lengthAdjust='spacingAndGlyphs' stroke='#333333' stroke-width='0.1'>6.3</text>
<text x='615.14' y='79.77' font-size='6.0' text-anchor='middle' fill='#333333' textLength='7.17' lengthAdjust='spacingAndGlyphs' stroke='#333333' stroke-width='0.1'>6.3</text>
<text x='615.14' y='72.28' font-size='6.0' text-anchor='middle' fill='#333333' textLength='10.04' lengthAdjust='spacingAndGlyphs' stroke='#333333' stroke-width='0.1'>12.5</text>
<text x='615.14' y='62.31' font-size='6.0' text-anchor='middle' fill='#333333' textLength='10.04' lengthAdjust='spacingAndGlyphs' stroke='#333333' stroke-width='0.1'>12.5</text>
<text x='615.14' y='44.85' font-size='6.0' text-anchor='middle' fill='#333333' textLength='10.04' lengthAdjust='spacingAndGlyphs' stroke='#333333' stroke-width='0.1'>31.3</text>
<text x='615.14' y='27.38' font-size='6.0' text-anchor='middle' fill='#333333' textLength='10.04' lengthAdjust='spacingAndGlyphs' stroke='#333333' stroke-width='0.1'>12.5</text>
<text x='615.14' y='110.70' font-size='6.0' text-anchor='middle' fill='#404040' textLength='19.88' lengthAdjust='spacingAndGlyphs' stroke='#404040' stroke-width='0.12'>Pakistani</text>
<rect x='639.92' y='98.09' width='12.20' height='1.52' fill='#4F81BD'/>
<rect x='639.92' y='81.99' width='12.20' height='16.12' fill='#9BBB59'/>
<rect x='639.92' y='62.15' width='12.20' height='19.85' fill='#8064A2'/>
<rect x='639.92' y='58.90' width='12.20' height='3.26' fill='#4BACC6'/>
<rect x='639.92' y='56.99' width='12.20' height='1.91' fill='#F79646'/>
<rect x='639.92' y='53.26' width='12.20' height='3.74' fill='#2C4D75'/>
<rect x='639.92' y='42.08' width='12.20' height='11.20' fill='#772C2A'/>
<rect x='639.92' y='34.62' width='12.20' height='7.47' fill='#5F7530'/>
<rect x='639.92' y='19.70' width='12.20' height='14.93' fill='#D99694'/>
<text x='646.02' y='101.55' font-size='6.0' text-anchor='middle' fill='#333333' textLength='7.17' lengthAdjust='spacingAndGlyphs' stroke='#333333' stroke-width='0.1'>1.6</text>
<text x='646.02' y='92.74' font-size='6.0' text-anchor='middle' fill='#333333' textLength='10.04' lengthAdjust='spacingAndGlyphs' stroke='#333333' stroke-width='0.1'>20.3</text>
<text x='646.02' y='74.77' font-size='6.0' text-anchor='middle' fill='#333333' textLength='5.74' lengthAdjust='spacingAndGlyphs' stroke='#333333' stroke-width='0.1'>25</text>
<text x='646.02' y='63.22' font-size='6.0' text-anchor='middle' fill='#333333' textLength='7.17' lengthAdjust='spacingAndGlyphs' stroke='#333333' stroke-width='0.1'>3.1</text>
<text x='646.02' y='60.64' font-size='6.0' text-anchor='middle' fill='#333333' textLength='7.17' lengthAdjust='spacingAndGlyphs' stroke='#333333' stroke-width='0.1'>1.6</text>
<text x='646.02' y='57.83' font-size='6.0' text-anchor='middle' fill='#333333' textLength='7.17' lengthAdjust='spacingAndGlyphs' stroke='#333333' stroke-width='0.1'>4.7</text>
<text x='646.02' y='50.37' font-size='6.0' text-anchor='middle' fill='#333333' textLength='10.04' lengthAdjust='spacingAndGlyphs' stroke='#333333' stroke-width='0.1'>14.1</text>
<text x='646.02' y='41.05' font-size='6.0' text-anchor='middle' fill='#333333' textLength='7.17' lengthAdjust='spacingAndGlyphs' stroke='#333333' stroke-width='0.1'>9.4</text>
<text x='646.02' y='29.86' font-size='6.0' text-anchor='middle' fill='#333333' textLength='10.04' lengthAdjust='spacingAndGlyphs' stroke='#333333' stroke-width='0.1'>18.8</text>
<text x='646.02' y='110.70' font-size='6.0' text-anchor='middle' fill='#404040' textLength='26.96' lengthAdjust='spacingAndGlyphs' stroke='#404040' stroke-width='0.12'>Rare breeds</text>
<rect x='18.00' y='220.80' width='308.50' height='1' fill='#EBEBEB'/>
<text x='12.20' y='223.60' font-size='6.4' text-anchor='end' fill='#404040' textLength='2.64' lengthAdjust='spacingAndGlyphs' stroke='#404040' stroke-width='0.12'>0</text>
<rect x='18.00' y='204.78' width='308.50' height='1' fill='#EBEBEB'/>
<text x='12.20' y='207.58' font-size='6.4' text-anchor='end' fill='#404040' textLength='5.28' lengthAdjust='spacingAndGlyphs' stroke='#404040' stroke-width='0.12'>20</text>
<rect x='18.00' y='188.76' width='308.50' height='1' fill='#EBEBEB'/>
<text x='12.20' y='191.56' font-size='6.4' text-anchor='end' fill='#404040' textLength='5.28' lengthAdjust='spacingAndGlyphs' stroke='#404040' stroke-width='0.12'>40</text>
<rect x='18.00' y='172.74' width='308.50' height='1' fill='#EBEBEB'/>
<text x='12.20' y='175.54' font-size='6.4' text-anchor='end' fill='#404040' textLength='5.28' lengthAdjust='spacingAndGlyphs' stroke='#404040' stroke-width='0.12'>60</text>
<rect x='18.00' y='156.72' width='308.50' height='1' fill='#EBEBEB'/>
<text x='12.20' y='159.52' font-size='6.4' text-anchor='end' fill='#404040' textLength='5.28' lengthAdjust='spacingAndGlyphs' stroke='#404040' stroke-width='0.12'>80</text>
<rect x='18.00' y='140.70' width='308.50' height='1' fill='#EBEBEB'/>
<text x='12.20' y='143.50' font-size='6.4' text-anchor='end' fill='#404040' textLength='7.92' lengthAdjust='spacingAndGlyphs' stroke='#404040' stroke-width='0.12'>100</text>
<text x='119.70' y='132.40' font-size='8.8' text-anchor='start' fill='#404040' textLength='68.60' lengthAdjust='spacingAndGlyphs' stroke='#404040' stroke-width='0.12'>Hackle feather color</text>
<rect x='27.10' y='217.78' width='12.20' height='3.53' fill='#8064A2'/>
<rect x='27.10' y='196.89' width='12.20' height='20.90' fill='#4BACC6'/>
<rect x='27.10' y='193.37' width='12.20' height='3.53' fill='#F79646'/>
<rect x='27.10' y='182.97' width='12.20' height='10.41' fill='#4D3B62'/>
<rect x='27.10' y='148.16' width='12.20' height='34.82' fill='#276A7C'/>
<rect x='27.10' y='141.20' width='12.20' height='6.97' fill='#B65708'/>
<text x='33.20' y='222.24' font-size='6.0' text-anchor='middle' fill='#333333' textLength='7.17' lengthAdjust='spacingAndGlyphs' stroke='#333333' stroke-width='0.1'>4.4</text>
<text x='33.20' y='210.04' font-size='6.0' text-anchor='middle' fill='#333333' textLength='10.04' lengthAdjust='spacingAndGlyphs' stroke='#333333' stroke-width='0.1'>26.1</text>
<text x='33.20' y='197.83' font-size='6.0' text-anchor='middle' fill='#333333' textLength='7.17' lengthAdjust='spacingAndGlyphs' stroke='#333333' stroke-width='0.1'>4.4</text>
<rect x='28.83' y='184.37' width='8.74' height='7.6' fill='#E6A3A3'/>
<text x='33.20' y='190.87' font-size='6.0' text-anchor='middle' fill='#333333' textLength='5.74' lengthAdjust='spacingAndGlyphs' stroke='#333333' stroke-width='0.1'>13</text>
<text x='33.20' y='168.27' font-size='6.0' text-anchor='middle' fill='#333333' textLength='10.04' lengthAdjust='spacingAndGlyphs' stroke='#333333' stroke-width='0.1'>43.5</text>
<text x='33.20' y='147.38' font-size='6.0' text-anchor='middle' fill='#333333' textLength='7.17' lengthAdjust='spacingAndGlyphs' stroke='#333333' stroke-width='0.1'>8.7</text>
<text x='33.20' y='232.40' font-size='6.0' text-anchor='middle' fill='#404040' textLength='19.88' lengthAdjust='spacingAndGlyphs' stroke='#404040' stroke-width='0.12'>Brahman</text>
<rect x='57.97' y='218.10' width='12.20' height='3.21' fill='#C0504D'/>
<rect x='57.97' y='196.81' width='12.20' height='21.30' fill='#8064A2'/>
<rect x='57.97' y='185.61' width='12.20' height='11.21' fill='#4BACC6'/>
<rect x='57.97' y='177.53' width='12.20' height='8.09' fill='#F79646'/>
<rect x='57.97' y='175.53' width='12.20' height='2.01' fill='#2C4D75'/>
<rect x='57.97' y='170.01' width='12.20' height='5.53' fill='#772C2A'/>
<rect x='57.97' y='161.81' width='12.20' height='8.21' fill='#5F7530'/>
<rect x='57.97' y='155.48' width='12.20' height='6.33' fill='#4D3B62'/>
<rect x='57.97' y='153.80' width='12.20' height='1.69' fill='#276A7C'/>
<rect x='57.97' y='141.20' width='12.20' height='12.61' fill='#B65708'/>
<text x='64.07' y='222.40' font-size='6.0' text-anchor='middle' fill='#333333' textLength='7.17' lengthAdjust='spacingAndGlyphs' stroke='#333333' stroke-width='0.1'>2.4</text>
<text x='64.07' y='210.16' font-size='6.0' text-anchor='middle' fill='#333333' textLength='10.04' lengthAdjust='spacingAndGlyphs' stroke='#333333' stroke-width='0.1'>26.7</text>
<text x='64.07' y='193.91' font-size='6.0' text-anchor='middle' fill='#333333' textLength='10.04' lengthAdjust='spacingAndGlyphs' stroke='#333333' stroke-width='0.1'>13.8</text>
<text x='64.07' y='184.27' font-size='6.0' text-anchor='middle' fill='#333333' textLength='7.17' lengthAdjust='spacingAndGlyphs' stroke='#333333' stroke-width='0.1'>9.9</text>
<text x='64.07' y='179.23' font-size='6.0' text-anchor='middle' fill='#333333' textLength='7.17' lengthAdjust='spacingAndGlyphs' stroke='#333333' stroke-width='0.1'>2.1</text>
<text x='64.07' y='175.47' font-size='6.0' text-anchor='middle' fill='#333333' textLength='7.17' lengthAdjust='spacingAndGlyphs' stroke='#333333' stroke-width='0.1'>7.1</text>
<text x='64.07' y='168.61' font-size='6.0' text-anchor='middle' fill='#333333' textLength='10.04' lengthAdjust='spacingAndGlyphs' stroke='#333333' stroke-width='0.1'>10.8</text>
<rect x='59.70' y='154.84' width='8.74' height='7.6' fill='#E6A3A3'/>
<text x='64.07' y='161.34' font-size='6.0' text-anchor='middle' fill='#333333' textLength='5.74' lengthAdjust='spacingAndGlyphs' stroke='#333333' stroke-width='0.1'>13</text>
<text x='64.07' y='150.20' font-size='6.0' text-anchor='middle' fill='#333333' textLength='5.74' lengthAdjust='spacingAndGlyphs' stroke='#333333' stroke-width='0.1'>16</text>
<text x='64.07' y='232.40' font-size='6.0' text-anchor='middle' fill='#404040' textLength='13.34' lengthAdjust='spacingAndGlyphs' stroke='#404040' stroke-width='0.12'>Fancy</text>
<rect x='88.84' y='161.22' width='12.20' height='60.09' fill='#8064A2'/>
<rect x='88.84' y='147.85' width='12.20' height='13.39' fill='#4BACC6'/>
<rect x='88.84' y='141.20' width='12.20' height='6.66' fill='#5F7530'/>
<text x='94.94' y='193.96' font-size='6.0' text-anchor='middle' fill='#333333' textLength='5.74' lengthAdjust='spacingAndGlyphs' stroke='#333333' stroke-width='0.1'>75</text>
<text x='94.94' y='157.24' font-size='6.0' text-anchor='middle' fill='#333333' textLength='10.04' lengthAdjust='spacingAndGlyphs' stroke='#333333' stroke-width='0.1'>16.7</text>
<text x='94.94' y='147.22' font-size='6.0' text-anchor='middle' fill='#333333' textLength='7.17' lengthAdjust='spacingAndGlyphs' stroke='#333333' stroke-width='0.1'>8.3</text>
<text x='94.94' y='232.40' font-size='6.0' text-anchor='middle' fill='#404040' textLength='16.06' lengthAdjust='spacingAndGlyphs' stroke='#404040' stroke-width='0.12'>Fayomi</text>
<rect x='119.71' y='217.92' width='12.20' height='3.39' fill='#9BBB59'/>
<rect x='119.71' y='214.54' width='12.20' height='3.39' fill='#8064A2'/>
<rect x='119.71' y='197.79' width='12.20' height='16.75' fill='#F79646'/>
<rect x='119.71' y='194.90' width='12.20' height='2.91' fill='#772C2A'/>
<rect x='119.71' y='184.83' width='12.20' height='10.07' fill='#5F7530'/>
<rect x='119.71' y='161.33' width='12.20' height='23.52' fill='#4D3B62'/>
<rect x='119.71' y='154.64' width='12.20' height='6.69' fill='#276A7C'/>
<rect x='119.71' y='141.20' width='12.20' height='13.45' fill='#B65708'/>
<text x='125.81' y='222.31' font-size='6.0' text-anchor='middle' fill='#333333' textLength='7.17' lengthAdjust='spacingAndGlyphs' stroke='#333333' stroke-width='0.1'>4.2</text>
<text x='125.81' y='218.93' font-size='6.0' text-anchor='middle' fill='#333333' textLength='7.17' lengthAdjust='spacingAndGlyphs' stroke='#333333' stroke-width='0.1'>4.2</text>
<text x='125.81' y='208.87' font-size='6.0' text-anchor='middle' fill='#333333' textLength='10.04' lengthAdjust='spacingAndGlyphs' stroke='#333333' stroke-width='0.1'>20.8</text>
<text x='125.81' y='199.04' font-size='6.0' text-anchor='middle' fill='#333333' textLength='7.17' lengthAdjust='spacingAndGlyphs' stroke='#333333' stroke-width='0.1'>3.1</text>
<text x='125.81' y='192.56' font-size='6.0' text-anchor='middle' fill='#333333' textLength='10.04' lengthAdjust='spacingAndGlyphs' stroke='#333333' stroke-width='0.1'>12.5</text>
<rect x='119.29' y='169.28' width='13.04' height='7.6' fill='#E6A3A3'/>
<text x='125.81' y='175.78' font-size='6.0' text-anchor='middle' fill='#333333' textLength='10.04' lengthAdjust='spacingAndGlyphs' stroke='#333333' stroke-width='0.1'>29.2</text>
<text x='125.81' y='160.68' font-size='6.0' text-anchor='middle' fill='#333333' textLength='7.17' lengthAdjust='spacingAndGlyphs' stroke='#333333' stroke-width='0.1'>8.3</text>
<text x='125.81' y='150.62' font-size='6.0' text-anchor='middle' fill='#333333' textLength='10.04' lengthAdjust='spacingAndGlyphs' stroke='#333333' stroke-width='0.1'>16.7</text>
<text x='125.81' y='232.40' font-size='6.0' text-anchor='middle' fill='#404040' textLength='15.80' lengthAdjust='spacingAndGlyphs' stroke='#404040' stroke-width='0.12'>Kuwaiti</text>
<rect x='150.58' y='211.33' width='12.20' height='9.98' fill='#C0504D'/>
<rect x='150.58' y='206.30' width='12.20' height='5.04' fill='#9BBB59'/>
<rect x='150.58' y='201.28' width='12.20' height='5.04' fill='#8064A2'/>
<rect x='150.58' y='176.30' width='12.20' height='24.98' fill='#4BACC6'/>
<rect x='150.58' y='171.28' width='12.20' height='5.04' fill='#F79646'/>
<rect x='150.58' y='166.25' width='12.20' height='5.04' fill='#772C2A'/>
<rect x='150.58' y='161.22' width='12.20' height='5.04' fill='#5F7530'/>
<rect x='150.58' y='156.20' width='12.20' height='5.04' fill='#4D3B62'/>
<rect x='150.58' y='151.17' width='12.20' height='5.04' fill='#276A7C'/>
<rect x='150.58' y='141.20' width='12.20' height='9.98' fill='#B65708'/>
<text x='156.68' y='219.01' font-size='6.0' text-anchor='middle' fill='#333333' textLength='10.04' lengthAdjust='spacingAndGlyphs' stroke='#333333' stroke-width='0.1'>12.5</text>
<text x='156.68' y='211.51' font-size='6.0' text-anchor='middle' fill='#333333' textLength='7.17' lengthAdjust='spacingAndGlyphs' stroke='#333333' stroke-width='0.1'>6.3</text>
<text x='156.68' y='206.49' font-size='6.0' text-anchor='middle' fill='#333333' textLength='7.17' lengthAdjust='spacingAndGlyphs' stroke='#333333' stroke-width='0.1'>6.3</text>
<text x='156.68' y='191.49' font-size='6.0' text-anchor='middle' fill='#333333' textLength='10.04' lengthAdjust='spacingAndGlyphs' stroke='#333333' stroke-width='0.1'>31.3</text>
<text x='156.68' y='176.49' font-size='6.0' text-anchor='middle' fill='#333333' textLength='7.17' lengthAdjust='spacingAndGlyphs' stroke='#333333' stroke-width='0.1'>6.3</text>
<text x='156.68' y='171.46' font-size='6.0' text-anchor='middle' fill='#333333' textLength='7.17' lengthAdjust='spacingAndGlyphs' stroke='#333333' stroke-width='0.1'>6.3</text>
<text x='156.68' y='166.44' font-size='6.0' text-anchor='middle' fill='#333333' textLength='7.17' lengthAdjust='spacingAndGlyphs' stroke='#333333' stroke-width='0.1'>6.3</text>
<rect x='151.59' y='154.91' width='10.17' height='7.6' fill='#E6A3A3'/>
<text x='156.68' y='161.41' font-size='6.0' text-anchor='middle' fill='#333333' textLength='7.17' lengthAdjust='spacingAndGlyphs' stroke='#333333' stroke-width='0.1'>6.3</text>
<text x='156.68' y='156.39' font-size='6.0' text-anchor='middle' fill='#333333' textLength='7.17' lengthAdjust='spacingAndGlyphs' stroke='#333333' stroke-width='0.1'>6.3</text>
<text x='156.68' y='148.89' font-size='6.0' text-anchor='middle' fill='#333333' textLength='10.04' lengthAdjust='spacingAndGlyphs' stroke='#333333' stroke-width='0.1'>12.5</text>
<text x='156.68' y='232.40' font-size='6.0' text-anchor='middle' fill='#404040' textLength='11.44' lengthAdjust='spacingAndGlyphs' stroke='#404040' stroke-width='0.12'>Karla</text>
<rect x='181.45' y='219.10' width='12.20' height='2.21' fill='#C0504D'/>
<rect x='181.45' y='216.79' width='12.20' height='2.33' fill='#9BBB59'/>
<rect x='181.45' y='202.01' width='12.20' height='14.78' fill='#8064A2'/>
<rect x='181.45' y='192.67' width='12.20' height='9.35' fill='#4BACC6'/>
<rect x='181.45' y='181.89' width='12.20' height='10.79' fill='#F79646'/>
<rect x='181.45' y='179.33' width='12.20' height='2.57' fill='#2C4D75'/>
<rect x='181.45' y='175.54' width='12.20' height='3.80' fill='#772C2A'/>
<rect x='181.45' y='167.23' width='12.20' height='8.32' fill='#5F7530'/>
<rect x='181.45' y='162.68' width='12.20' height='4.56' fill='#4D3B62'/>
<rect x='181.45' y='148.79' width='12.20' height='13.91' fill='#276A7C'/>
<rect x='181.45' y='141.20' width='12.20' height='7.60' fill='#B65708'/>
<text x='187.55' y='222.90' font-size='6.0' text-anchor='middle' fill='#333333' textLength='7.17' lengthAdjust='spacingAndGlyphs' stroke='#333333' stroke-width='0.1'>1.9</text>
<text x='187.55' y='220.65' font-size='6.0' text-anchor='middle' fill='#333333' textLength='7.17' lengthAdjust='spacingAndGlyphs' stroke='#333333' stroke-width='0.1'>2.4</text>
<text x='187.55' y='212.10' font-size='6.0' text-anchor='middle' fill='#333333' textLength='10.04' lengthAdjust='spacingAndGlyphs' stroke='#333333' stroke-width='0.1'>18.5</text>
<text x='187.55' y='200.04' font-size='6.0' text-anchor='middle' fill='#333333' textLength='9.66' lengthAdjust='spacingAndGlyphs' stroke='#333333' stroke-width='0.1'>11.7</text>
<text x='187.55' y='189.98' font-size='6.0' text-anchor='middle' fill='#333333' textLength='10.04' lengthAdjust='spacingAndGlyphs' stroke='#333333' stroke-width='0.1'>13.5</text>
<text x='187.55' y='183.31' font-size='6.0' text-anchor='middle' fill='#333333' textLength='7.17' lengthAdjust='spacingAndGlyphs' stroke='#333333' stroke-width='0.1'>3.1</text>
<text x='187.55' y='180.14' font-size='6.0' text-anchor='middle' fill='#333333' textLength='7.17' lengthAdjust='spacingAndGlyphs' stroke='#333333' stroke-width='0.1'>4.8</text>
<text x='187.55' y='174.09' font-size='6.0' text-anchor='middle' fill='#333333' textLength='10.04' lengthAdjust='spacingAndGlyphs' stroke='#333333' stroke-width='0.1'>10.4</text>
<rect x='182.46' y='161.16' width='10.17' height='7.6' fill='#E6A3A3'/>
<text x='187.55' y='167.66' font-size='6.0' text-anchor='middle' fill='#333333' textLength='7.17' lengthAdjust='spacingAndGlyphs' stroke='#333333' stroke-width='0.1'>5.7</text>
<text x='187.55' y='158.43' font-size='6.0' text-anchor='middle' fill='#333333' textLength='10.04' lengthAdjust='spacingAndGlyphs' stroke='#333333' stroke-width='0.1'>17.4</text>
<text x='187.55' y='147.69' font-size='6.0' text-anchor='middle' fill='#333333' textLength='7.17' lengthAdjust='spacingAndGlyphs' stroke='#333333' stroke-width='0.1'>9.5</text>
<text x='187.55' y='232.40' font-size='6.0' text-anchor='middle' fill='#404040' textLength='11.71' lengthAdjust='spacingAndGlyphs' stroke='#404040' stroke-width='0.12'>Local</text>
<rect x='212.32' y='220.82' width='12.20' height='0.49' fill='#4F81BD'/>
<rect x='212.32' y='195.08' width='12.20' height='25.75' fill='#8064A2'/>
<rect x='212.32' y='190.27' width='12.20' height='4.82' fill='#4BACC6'/>
<rect x='212.32' y='183.13' width='12.20' height='7.15' fill='#F79646'/>
<rect x='212.32' y='181.93' width='12.20' height='1.21' fill='#2C4D75'/>
<rect x='212.32' y='174.80' width='12.20' height='7.15' fill='#5F7530'/>
<rect x='212.32' y='169.98' width='12.20' height='4.82' fill='#4D3B62'/>
<rect x='212.32' y='149.94' width='12.20' height='20.06' fill='#276A7C'/>
<rect x='212.32' y='141.20' width='12.20' height='8.75' fill='#B65708'/>
<text x='218.42' y='223.76' font-size='6.0' text-anchor='middle' fill='#333333' textLength='7.17' lengthAdjust='spacingAndGlyphs' stroke='#333333' stroke-width='0.1'>0.6</text>
<text x='218.42' y='210.65' font-size='6.0' text-anchor='middle' fill='#333333' textLength='10.04' lengthAdjust='spacingAndGlyphs' stroke='#333333' stroke-width='0.1'>32.1</text>
<text x='218.42' y='195.38' font-size='6.0' text-anchor='middle' fill='#333333' textLength='2.87' lengthAdjust='spacingAndGlyphs' stroke='#333333' stroke-width='0.1'>6</text>
<text x='218.42' y='189.40' font-size='6.0' text-anchor='middle' fill='#333333' textLength='7.17' lengthAdjust='spacingAndGlyphs' stroke='#333333' stroke-width='0.1'>8.9</text>
<text x='218.42' y='181.06' font-size='6.0' text-anchor='middle' fill='#333333' textLength='7.17' lengthAdjust='spacingAndGlyphs' stroke='#333333' stroke-width='0.1'>8.9</text>
<rect x='215.17' y='168.59' width='6.50' height='7.6' fill='#E6A3A3'/>
<text x='218.42' y='175.09' font-size='6.0' text-anchor='middle' fill='#333333' textLength='2.87' lengthAdjust='spacingAndGlyphs' stroke='#333333' stroke-width='0.1'>6</text>
<text x='218.42' y='162.66' font-size='6.0' text-anchor='middle' fill='#333333' textLength='5.74' lengthAdjust='spacingAndGlyphs' stroke='#333333' stroke-width='0.1'>25</text>
<text x='218.42' y='148.27' font-size='6.0' text-anchor='middle' fill='#333333' textLength='10.04' lengthAdjust='spacingAndGlyphs' stroke='#333333' stroke-width='0.1'>10.1</text>
<text x='218.42' y='232.40' font-size='6.0' text-anchor='middle' fill='#404040' textLength='22.60' lengthAdjust='spacingAndGlyphs' stroke='#404040' stroke-width='0.12'>Crossbred</text>
<rect x='243.19' y='220.50' width='12.20' height='0.81' fill='#4F81BD'/>
<rect x='243.19' y='219.50' width='12.20' height='1.01' fill='#C0504D'/>
<rect x='243.19' y='217.98' width='12.20' height='1.53' fill='#9BBB59'/>
<rect x='243.19' y='213.10' width='12.20' height='4.89' fill='#8064A2'/>
<rect x='243.19' y='204.78' width='12.20' height='8.33' fill='#4BACC6'/>
<rect x='243.19' y='198.47' width='12.20' height='6.33' fill='#F79646'/>
<rect x='243.19' y='191.99' width='12.20' height='6.49' fill='#2C4D75'/>
<rect x='243.19' y='190.99' width='12.20' height='1.01' fill='#772C2A'/>
<rect x='243.19' y='179.87' width='12.20' height='11.13' fill='#5F7530'/>
<rect x='243.19' y='171.47' width='12.20' height='8.41' fill='#4D3B62'/>
<rect x='243.19' y='152.60' width='12.20' height='18.89' fill='#276A7C'/>
<rect x='243.19' y='141.20' width='12.20' height='11.41' fill='#B65708'/>
<text x='249.29' y='223.60' font-size='6.0' text-anchor='middle' fill='#333333' textLength='7.17' lengthAdjust='spacingAndGlyphs' stroke='#333333' stroke-width='0.1'>2.4</text>
<text x='249.29' y='218.24' font-size='6.0' text-anchor='middle' fill='#333333' textLength='7.17' lengthAdjust='spacingAndGlyphs' stroke='#333333' stroke-width='0.1'>7.1</text>
<text x='249.29' y='211.64' font-size='6.0' text-anchor='middle' fill='#333333' textLength='10.04' lengthAdjust='spacingAndGlyphs' stroke='#333333' stroke-width='0.1'>10.6</text>
<text x='249.29' y='204.32' font-size='6.0' text-anchor='middle' fill='#333333' textLength='7.17' lengthAdjust='spacingAndGlyphs' stroke='#333333' stroke-width='0.1'>7.1</text>
<text x='249.29' y='197.93' font-size='6.0' text-anchor='middle' fill='#333333' textLength='7.17' lengthAdjust='spacingAndGlyphs' stroke='#333333' stroke-width='0.1'>8.3</text>
<text x='249.29' y='188.13' font-size='6.0' text-anchor='middle' fill='#333333' textLength='10.04' lengthAdjust='spacingAndGlyphs' stroke='#333333' stroke-width='0.1'>14.1</text>
<rect x='242.77' y='171.87' width='13.04' height='7.6' fill='#E6A3A3'/>
<text x='249.29' y='178.37' font-size='6.0' text-anchor='middle' fill='#333333' textLength='10.04' lengthAdjust='spacingAndGlyphs' stroke='#333333' stroke-width='0.1'>10.6</text>
<text x='249.29' y='164.73' font-size='6.0' text-anchor='middle' fill='#333333' textLength='10.04' lengthAdjust='spacingAndGlyphs' stroke='#333333' stroke-width='0.1'>23.5</text>
<text x='249.29' y='149.60' font-size='6.0' text-anchor='middle' fill='#333333' textLength='10.04' lengthAdjust='spacingAndGlyphs' stroke='#333333' stroke-width='0.1'>14.1</text>
<text x='249.29' y='232.40' font-size='6.0' text-anchor='middle' fill='#404040' textLength='14.43' lengthAdjust='spacingAndGlyphs' stroke='#404040' stroke-width='0.12'>Omani</text>
<rect x='274.06' y='216.27' width='12.20' height='5.04' fill='#8064A2'/>
<rect x='274.06' y='211.24' width='12.20' height='5.04' fill='#4BACC6'/>
<rect x='274.06' y='206.21' width='12.20' height='5.04' fill='#F79646'/>
<rect x='274.06' y='201.18' width='12.20' height='5.04' fill='#2C4D75'/>
<rect x='274.06' y='191.19' width='12.20' height='9.99' fill='#5F7530'/>
<rect x='274.06' y='186.16' width='12.20' height='5.04' fill='#4D3B62'/>
<rect x='274.06' y='156.21' width='12.20' height='29.96' fill='#276A7C'/>
<rect x='274.06' y='141.20' width='12.20' height='15.02' fill='#B65708'/>
<text x='280.16' y='221.48' font-size='6.0' text-anchor='middle' fill='#333333' textLength='7.17' lengthAdjust='spacingAndGlyphs' stroke='#333333' stroke-width='0.1'>6.3</text>
<text x='280.16' y='216.45' font-size='6.0' text-anchor='middle' fill='#333333' textLength='7.17' lengthAdjust='spacingAndGlyphs' stroke='#333333' stroke-width='0.1'>6.3</text>
<text x='280.16' y='211.42' font-size='6.0' text-anchor='middle' fill='#333333' textLength='7.17' lengthAdjust='spacingAndGlyphs' stroke='#333333' stroke-width='0.1'>6.3</text>
<text x='280.16' y='206.39' font-size='6.0' text-anchor='middle' fill='#333333' textLength='7.17' lengthAdjust='spacingAndGlyphs' stroke='#333333' stroke-width='0.1'>6.3</text>
<text x='280.16' y='198.88' font-size='6.0' text-anchor='middle' fill='#333333' textLength='10.04' lengthAdjust='spacingAndGlyphs' stroke='#333333' stroke-width='0.1'>12.5</text>
<rect x='275.07' y='184.88' width='10.17' height='7.6' fill='#E6A3A3'/>
<text x='280.16' y='191.38' font-size='6.0' text-anchor='middle' fill='#333333' textLength='7.17' lengthAdjust='spacingAndGlyphs' stroke='#333333' stroke-width='0.1'>6.3</text>
<text x='280.16' y='173.89' font-size='6.0' text-anchor='middle' fill='#333333' textLength='10.04' lengthAdjust='spacingAndGlyphs' stroke='#333333' stroke-width='0.1'>37.5</text>
<text x='280.16' y='151.41' font-size='6.0' text-anchor='middle' fill='#333333' textLength='10.04' lengthAdjust='spacingAndGlyphs' stroke='#333333' stroke-width='0.1'>18.8</text>
<text x='280.16' y='232.40' font-size='6.0' text-anchor='middle' fill='#404040' textLength='19.88' lengthAdjust='spacingAndGlyphs' stroke='#404040' stroke-width='0.12'>Pakistani</text>
<rect x='304.93' y='220.02' width='12.20' height='1.29' fill='#C0504D'/>
<rect x='304.93' y='196.20' width='12.20' height='23.82' fill='#8064A2'/>
<rect x='304.93' y='172.39' width='12.20' height='23.82' fill='#4BACC6'/>
<rect x='304.93' y='167.34' width='12.20' height='5.06' fill='#F79646'/>
<rect x='304.93' y='165.74' width='12.20' height='1.61' fill='#2C4D75'/>
<rect x='304.93' y='163.73' width='12.20' height='2.01' fill='#772C2A'/>
<rect x='304.93' y='151.22' width='12.20' height='12.52' fill='#5F7530'/>
<rect x='304.93' y='142.48' width='12.20' height='8.75' fill='#4D3B62'/>
<rect x='304.93' y='141.20' width='12.20' height='1.29' fill='#276A7C'/>
<text x='311.03' y='223.36' font-size='6.0' text-anchor='middle' fill='#333333' textLength='7.17' lengthAdjust='spacingAndGlyphs' stroke='#333333' stroke-width='0.1'>1.6</text>
<text x='311.03' y='210.81' font-size='6.0' text-anchor='middle' fill='#333333' textLength='10.04' lengthAdjust='spacingAndGlyphs' stroke='#333333' stroke-width='0.1'>29.7</text>
<text x='311.03' y='187.00' font-size='6.0' text-anchor='middle' fill='#333333' textLength='10.04' lengthAdjust='spacingAndGlyphs' stroke='#333333' stroke-width='0.1'>29.7</text>
<text x='311.03' y='172.56' font-size='6.0' text-anchor='middle' fill='#333333' textLength='7.17' lengthAdjust='spacingAndGlyphs' stroke='#333333' stroke-width='0.1'>6.3</text>
<text x='311.03' y='160.18' font-size='6.0' text-anchor='middle' fill='#333333' textLength='10.04' lengthAdjust='spacingAndGlyphs' stroke='#333333' stroke-width='0.1'>15.6</text>
<rect x='304.51' y='143.05' width='13.04' height='7.6' fill='#E6A3A3'/>
<text x='311.03' y='149.55' font-size='6.0' text-anchor='middle' fill='#333333' textLength='10.04' lengthAdjust='spacingAndGlyphs' stroke='#333333' stroke-width='0.1'>10.9</text>
<text x='311.03' y='144.54' font-size='6.0' text-anchor='middle' fill='#333333' textLength='7.17' lengthAdjust='spacingAndGlyphs' stroke='#333333' stroke-width='0.1'>1.6</text>
<text x='311.03' y='232.40' font-size='6.0' text-anchor='middle' fill='#404040' textLength='26.96' lengthAdjust='spacingAndGlyphs' stroke='#404040' stroke-width='0.12'>Rare breeds</text>
<rect x='351.60' y='220.80' width='308.40' height='1' fill='#EBEBEB'/>
<text x='345.90' y='223.60' font-size='6.4' text-anchor='end' fill='#404040' textLength='2.64' lengthAdjust='spacingAndGlyphs' stroke='#404040' stroke-width='0.12'>0</text>
<rect x='351.60' y='204.78' width='308.40' height='1' fill='#EBEBEB'/>
<text x='345.90' y='207.58' font-size='6.4' text-anchor='end' fill='#404040' textLength='5.28' lengthAdjust='spacingAndGlyphs' stroke='#404040' stroke-width='0.12'>20</text>
<rect x='351.60' y='188.76' width='308.40' height='1' fill='#EBEBEB'/>
<text x='345.90' y='191.56' font-size='6.4' text-anchor='end' fill='#404040' textLength='5.28' lengthAdjust='spacingAndGlyphs' stroke='#404040' stroke-width='0.12'>40</text>
<rect x='351.60' y='172.74' width='308.40' height='1' fill='#EBEBEB'/>
<text x='345.90' y='175.54' font-size='6.4' text-anchor='end' fill='#404040' textLength='5.28' lengthAdjust='spacingAndGlyphs' stroke='#404040' stroke-width='0.12'>60</text>
<rect x='351.60' y='156.72' width='308.40' height='1' fill='#EBEBEB'/>
<text x='345.90' y='159.52' font-size='6.4' text-anchor='end' fill='#404040' textLength='5.28' lengthAdjust='spacingAndGlyphs' stroke='#404040' stroke-width='0.12'>80</text>
<rect x='351.60' y='140.70' width='308.40' height='1' fill='#EBEBEB'/>
<text x='345.90' y='143.50' font-size='6.4' text-anchor='end' fill='#404040' textLength='7.92' lengthAdjust='spacingAndGlyphs' stroke='#404040' stroke-width='0.12'>100</text>
<text x='452.70' y='131.70' font-size='8.8' text-anchor='start' fill='#404040' textLength='92.90' lengthAdjust='spacingAndGlyphs' stroke='#404040' stroke-width='0.12'>Wing primary feather color</text>
<rect x='361.00' y='203.92' width='12.20' height='17.39' fill='#8064A2'/>
<rect x='361.00' y='196.95' width='12.20' height='6.98' fill='#4BACC6'/>
<rect x='361.00' y='193.43' width='12.20' height='3.53' fill='#F79646'/>
<rect x='361.00' y='186.46' width='12.20' height='6.98' fill='#5F7530'/>
<rect x='361.00' y='148.17' width='12.20' height='38.30' fill='#D99694'/>
<rect x='361.00' y='141.20' width='12.20' height='6.98' fill='#276A7C'/>
<text x='367.10' y='215.31' font-size='6.0' text-anchor='middle' fill='#333333' textLength='10.04' lengthAdjust='spacingAndGlyphs' stroke='#333333' stroke-width='0.1'>21.7</text>
<text x='367.10' y='203.13' font-size='6.0' text-anchor='middle' fill='#333333' textLength='7.17' lengthAdjust='spacingAndGlyphs' stroke='#333333' stroke-width='0.1'>8.7</text>
<text x='367.10' y='197.89' font-size='6.0' text-anchor='middle' fill='#333333' textLength='7.17' lengthAdjust='spacingAndGlyphs' stroke='#333333' stroke-width='0.1'>4.4</text>
<text x='367.10' y='192.64' font-size='6.0' text-anchor='middle' fill='#333333' textLength='7.17' lengthAdjust='spacingAndGlyphs' stroke='#333333' stroke-width='0.1'>8.7</text>
<text x='367.10' y='170.01' font-size='6.0' text-anchor='middle' fill='#333333' textLength='10.04' lengthAdjust='spacingAndGlyphs' stroke='#333333' stroke-width='0.1'>47.8</text>
<text x='367.10' y='147.38' font-size='6.0' text-anchor='middle' fill='#333333' textLength='7.17' lengthAdjust='spacingAndGlyphs' stroke='#333333' stroke-width='0.1'>8.7</text>
<text x='367.10' y='232.40' font-size='6.0' text-anchor='middle' fill='#404040' textLength='19.88' lengthAdjust='spacingAndGlyphs' stroke='#404040' stroke-width='0.12'>Brahman</text>
<rect x='391.91' y='219.09' width='12.20' height='2.22' fill='#4F81BD'/>
<rect x='391.91' y='217.41' width='12.20' height='1.70' fill='#C0504D'/>
<rect x='391.91' y='213.88' width='12.20' height='3.54' fill='#9BBB59'/>
<rect x='391.91' y='208.98' width='12.20' height='4.91' fill='#8064A2'/>
<rect x='391.91' y='207.58' width='12.20' height='1.41' fill='#4BACC6'/>
<rect x='391.91' y='199.95' width='12.20' height='7.63' fill='#F79646'/>
<rect x='391.91' y='182.29' width='12.20' height='17.67' fill='#2C4D75'/>
<rect x='391.91' y='157.41' width='12.20' height='24.89' fill='#772C2A'/>
<rect x='391.91' y='157.09' width='12.20' height='0.33' fill='#5F7530'/>
<rect x='391.91' y='147.78' width='12.20' height='9.32' fill='#D99694'/>
<rect x='391.91' y='141.20' width='12.20' height='6.59' fill='#276A7C'/>
<text x='398.01' y='222.90' font-size='6.0' text-anchor='middle' fill='#333333' textLength='7.17' lengthAdjust='spacingAndGlyphs' stroke='#333333' stroke-width='0.1'>1.8</text>
<text x='398.01' y='218.34' font-size='6.0' text-anchor='middle' fill='#333333' textLength='7.17' lengthAdjust='spacingAndGlyphs' stroke='#333333' stroke-width='0.1'>3.5</text>
<text x='398.01' y='214.13' font-size='6.0' text-anchor='middle' fill='#333333' textLength='7.17' lengthAdjust='spacingAndGlyphs' stroke='#333333' stroke-width='0.1'>6.5</text>
<text x='398.01' y='210.98' font-size='6.0' text-anchor='middle' fill='#333333' textLength='7.17' lengthAdjust='spacingAndGlyphs' stroke='#333333' stroke-width='0.1'>2.2</text>
<text x='398.01' y='206.46' font-size='6.0' text-anchor='middle' fill='#333333' textLength='7.17' lengthAdjust='spacingAndGlyphs' stroke='#333333' stroke-width='0.1'>9.5</text>
<text x='398.01' y='193.82' font-size='6.0' text-anchor='middle' fill='#333333' textLength='5.74' lengthAdjust='spacingAndGlyphs' stroke='#333333' stroke-width='0.1'>22</text>
<text x='398.01' y='172.55' font-size='6.0' text-anchor='middle' fill='#333333' textLength='5.74' lengthAdjust='spacingAndGlyphs' stroke='#333333' stroke-width='0.1'>31</text>
<text x='398.01' y='159.95' font-size='6.0' text-anchor='middle' fill='#333333' textLength='7.17' lengthAdjust='spacingAndGlyphs' stroke='#333333' stroke-width='0.1'>0.4</text>
<text x='398.01' y='155.14' font-size='6.0' text-anchor='middle' fill='#333333' textLength='9.66' lengthAdjust='spacingAndGlyphs' stroke='#333333' stroke-width='0.1'>11.6</text>
<text x='398.01' y='147.19' font-size='6.0' text-anchor='middle' fill='#333333' textLength='7.17' lengthAdjust='spacingAndGlyphs' stroke='#333333' stroke-width='0.1'>8.2</text>
<text x='398.01' y='232.40' font-size='6.0' text-anchor='middle' fill='#404040' textLength='13.34' lengthAdjust='spacingAndGlyphs' stroke='#404040' stroke-width='0.12'>Fancy</text>
<rect x='422.82' y='214.65' width='12.20' height='6.66' fill='#9BBB59'/>
<rect x='422.82' y='201.28' width='12.20' height='13.39' fill='#8064A2'/>
<rect x='422.82' y='181.25' width='12.20' height='20.04' fill='#F79646'/>
<rect x='422.82' y='167.87' width='12.20' height='13.39' fill='#772C2A'/>
<rect x='422.82' y='141.20' width='12.20' height='26.68' fill='#D99694'/>
<text x='428.92' y='220.68' font-size='6.0' text-anchor='middle' fill='#333333' textLength='7.17' lengthAdjust='spacingAndGlyphs' stroke='#333333' stroke-width='0.1'>8.3</text>
<text x='428.92' y='210.66' font-size='6.0' text-anchor='middle' fill='#333333' textLength='10.04' lengthAdjust='spacingAndGlyphs' stroke='#333333' stroke-width='0.1'>16.7</text>
<text x='428.92' y='193.96' font-size='6.0' text-anchor='middle' fill='#333333' textLength='5.74' lengthAdjust='spacingAndGlyphs' stroke='#333333' stroke-width='0.1'>25</text>
<text x='428.92' y='177.26' font-size='6.0' text-anchor='middle' fill='#333333' textLength='10.04' lengthAdjust='spacingAndGlyphs' stroke='#333333' stroke-width='0.1'>16.7</text>
<text x='428.92' y='157.24' font-size='6.0' text-anchor='middle' fill='#333333' textLength='10.04' lengthAdjust='spacingAndGlyphs' stroke='#333333' stroke-width='0.1'>33.3</text>
<text x='428.92' y='232.40' font-size='6.0' text-anchor='middle' fill='#404040' textLength='16.06' lengthAdjust='spacingAndGlyphs' stroke='#404040' stroke-width='0.12'>Fayomi</text>
<rect x='453.73' y='217.94' width='12.20' height='3.37' fill='#4F81BD'/>
<rect x='453.73' y='201.28' width='12.20' height='16.67' fill='#4BACC6'/>
<rect x='453.73' y='191.26' width='12.20' height='10.02' fill='#2C4D75'/>
<rect x='453.73' y='184.61' width='12.20' height='6.66' fill='#772C2A'/>
<rect x='453.73' y='181.25' width='12.20' height='3.37' fill='#5F7530'/>
<rect x='453.73' y='151.21' width='12.20' height='30.05' fill='#D99694'/>
<rect x='453.73' y='141.20' width='12.20' height='10.02' fill='#276A7C'/>
<text x='459.83' y='222.32' font-size='6.0' text-anchor='middle' fill='#333333' textLength='7.17' lengthAdjust='spacingAndGlyphs' stroke='#333333' stroke-width='0.1'>4.2</text>
<text x='459.83' y='212.31' font-size='6.0' text-anchor='middle' fill='#333333' textLength='10.04' lengthAdjust='spacingAndGlyphs' stroke='#333333' stroke-width='0.1'>20.8</text>
<text x='459.83' y='198.97' font-size='6.0' text-anchor='middle' fill='#333333' textLength='10.04' lengthAdjust='spacingAndGlyphs' stroke='#333333' stroke-width='0.1'>12.5</text>
<text x='459.83' y='190.64' font-size='6.0' text-anchor='middle' fill='#333333' textLength='7.17' lengthAdjust='spacingAndGlyphs' stroke='#333333' stroke-width='0.1'>8.3</text>
<text x='459.83' y='185.63' font-size='6.0' text-anchor='middle' fill='#333333' textLength='7.17' lengthAdjust='spacingAndGlyphs' stroke='#333333' stroke-width='0.1'>4.2</text>
<text x='459.83' y='168.93' font-size='6.0' text-anchor='middle' fill='#333333' textLength='10.04' lengthAdjust='spacingAndGlyphs' stroke='#333333' stroke-width='0.1'>37.5</text>
<text x='459.83' y='148.91' font-size='6.0' text-anchor='middle' fill='#333333' textLength='10.04' lengthAdjust='spacingAndGlyphs' stroke='#333333' stroke-width='0.1'>12.5</text>
<text x='459.83' y='232.40' font-size='6.0' text-anchor='middle' fill='#404040' textLength='15.80' lengthAdjust='spacingAndGlyphs' stroke='#404040' stroke-width='0.12'>Kuwaiti</text>
<rect x='484.64' y='216.27' width='12.20' height='5.04' fill='#4F81BD'/>
<rect x='484.64' y='211.24' width='12.20' height='5.04' fill='#C0504D'/>
<rect x='484.64' y='206.21' width='12.20' height='5.04' fill='#9BBB59'/>
<rect x='484.64' y='196.22' width='12.20' height='9.99' fill='#8064A2'/>
<rect x='484.64' y='186.24' width='12.20' height='9.99' fill='#4BACC6'/>
<rect x='484.64' y='176.26' width='12.20' height='9.99' fill='#F79646'/>
<rect x='484.64' y='161.24' width='12.20' height='15.02' fill='#2C4D75'/>
<rect x='484.64' y='146.23' width='12.20' height='15.02' fill='#772C2A'/>
<rect x='484.64' y='141.20' width='12.20' height='5.04' fill='#D99694'/>
<text x='490.74' y='221.48' font-size='6.0' text-anchor='middle' fill='#333333' textLength='7.17' lengthAdjust='spacingAndGlyphs' stroke='#333333' stroke-width='0.1'>6.3</text>
<text x='490.74' y='216.45' font-size='6.0' text-anchor='middle' fill='#333333' textLength='7.17' lengthAdjust='spacingAndGlyphs' stroke='#333333' stroke-width='0.1'>6.3</text>
<text x='490.74' y='211.42' font-size='6.0' text-anchor='middle' fill='#333333' textLength='7.17' lengthAdjust='spacingAndGlyphs' stroke='#333333' stroke-width='0.1'>6.3</text>
<text x='490.74' y='203.92' font-size='6.0' text-anchor='middle' fill='#333333' textLength='10.04' lengthAdjust='spacingAndGlyphs' stroke='#333333' stroke-width='0.1'>12.5</text>
<text x='490.74' y='193.93' font-size='6.0' text-anchor='middle' fill='#333333' textLength='10.04' lengthAdjust='spacingAndGlyphs' stroke='#333333' stroke-width='0.1'>12.5</text>
<text x='490.74' y='183.95' font-size='6.0' text-anchor='middle' fill='#333333' textLength='10.04' lengthAdjust='spacingAndGlyphs' stroke='#333333' stroke-width='0.1'>12.5</text>
<text x='490.74' y='171.45' font-size='6.0' text-anchor='middle' fill='#333333' textLength='10.04' lengthAdjust='spacingAndGlyphs' stroke='#333333' stroke-width='0.1'>18.8</text>
<text x='490.74' y='156.44' font-size='6.0' text-anchor='middle' fill='#333333' textLength='10.04' lengthAdjust='spacingAndGlyphs' stroke='#333333' stroke-width='0.1'>18.8</text>
<text x='490.74' y='146.42' font-size='6.0' text-anchor='middle' fill='#333333' textLength='7.17' lengthAdjust='spacingAndGlyphs' stroke='#333333' stroke-width='0.1'>6.3</text>
<text x='490.74' y='232.40' font-size='6.0' text-anchor='middle' fill='#404040' textLength='11.44' lengthAdjust='spacingAndGlyphs' stroke='#404040' stroke-width='0.12'>Karla</text>
<rect x='515.55' y='216.19' width='12.20' height='5.12' fill='#4F81BD'/>
<rect x='515.55' y='209.00' width='12.20' height='7.20' fill='#C0504D'/>
<rect x='515.55' y='207.88' width='12.20' height='1.13' fill='#8064A2'/>
<rect x='515.55' y='199.58' width='12.20' height='8.32' fill='#4BACC6'/>
<rect x='515.55' y='192.47' width='12.20' height='7.12' fill='#F79646'/>
<rect x='515.55' y='183.37' width='12.20' height='9.11' fill='#2C4D75'/>
<rect x='515.55' y='165.80' width='12.20' height='17.58' fill='#772C2A'/>
<rect x='515.55' y='159.49' width='12.20' height='6.32' fill='#5F7530'/>
<rect x='515.55' y='147.51' width='12.20' height='11.99' fill='#D99694'/>
<rect x='515.55' y='141.20' width='12.20' height='6.32' fill='#276A7C'/>
<text x='521.65' y='221.44' font-size='6.0' text-anchor='middle' fill='#333333' textLength='7.17' lengthAdjust='spacingAndGlyphs' stroke='#333333' stroke-width='0.1'>6.4</text>
<text x='521.65' y='215.30' font-size='6.0' text-anchor='middle' fill='#333333' textLength='7.17' lengthAdjust='spacingAndGlyphs' stroke='#333333' stroke-width='0.1'>8.4</text>
<text x='521.65' y='211.14' font-size='6.0' text-anchor='middle' fill='#333333' textLength='7.17' lengthAdjust='spacingAndGlyphs' stroke='#333333' stroke-width='0.1'>0.9</text>
<text x='521.65' y='206.43' font-size='6.0' text-anchor='middle' fill='#333333' textLength='5.36' lengthAdjust='spacingAndGlyphs' stroke='#333333' stroke-width='0.1'>11</text>
<text x='521.65' y='198.72' font-size='6.0' text-anchor='middle' fill='#333333' textLength='7.17' lengthAdjust='spacingAndGlyphs' stroke='#333333' stroke-width='0.1'>8.2</text>
<text x='521.65' y='190.62' font-size='6.0' text-anchor='middle' fill='#333333' textLength='9.66' lengthAdjust='spacingAndGlyphs' stroke='#333333' stroke-width='0.1'>11.7</text>
<text x='521.65' y='177.28' font-size='6.0' text-anchor='middle' fill='#333333' textLength='10.04' lengthAdjust='spacingAndGlyphs' stroke='#333333' stroke-width='0.1'>22.1</text>
<text x='521.65' y='165.34' font-size='6.0' text-anchor='middle' fill='#333333' textLength='7.17' lengthAdjust='spacingAndGlyphs' stroke='#333333' stroke-width='0.1'>7.7</text>
<text x='521.65' y='156.20' font-size='6.0' text-anchor='middle' fill='#333333' textLength='5.74' lengthAdjust='spacingAndGlyphs' stroke='#333333' stroke-width='0.1'>15</text>
<text x='521.65' y='147.05' font-size='6.0' text-anchor='middle' fill='#333333' textLength='7.17' lengthAdjust='spacingAndGlyphs' stroke='#333333' stroke-width='0.1'>7.3</text>
<text x='521.65' y='232.40' font-size='6.0' text-anchor='middle' fill='#404040' textLength='11.71' lengthAdjust='spacingAndGlyphs' stroke='#404040' stroke-width='0.12'>Local</text>
<rect x='546.46' y='219.10' width='12.20' height='2.21' fill='#4F81BD'/>
<rect x='546.46' y='216.78' width='12.20' height='2.33' fill='#C0504D'/>
<rect x='546.46' y='214.29' width='12.20' height='2.49' fill='#9BBB59'/>
<rect x='546.46' y='210.77' width='12.20' height='3.53' fill='#8064A2'/>
<rect x='546.46' y='207.09' width='12.20' height='3.69' fill='#4BACC6'/>
<rect x='546.46' y='200.48' width='12.20' height='6.61' fill='#F79646'/>
<rect x='546.46' y='194.80' width='12.20' height='5.69' fill='#2C4D75'/>
<rect x='546.46' y='173.98' width='12.20' height='20.83' fill='#772C2A'/>
<rect x='546.46' y='168.98' width='12.20' height='5.01' fill='#5F7530'/>
<rect x='546.46' y='144.88' width='12.20' height='24.11' fill='#D99694'/>
<rect x='546.46' y='141.20' width='12.20' height='3.69' fill='#276A7C'/>
<text x='552.56' y='215.23' font-size='6.0' text-anchor='middle' fill='#333333' textLength='7.17' lengthAdjust='spacingAndGlyphs' stroke='#333333' stroke-width='0.1'>4.2</text>
<text x='552.56' y='211.63' font-size='6.0' text-anchor='middle' fill='#333333' textLength='7.17' lengthAdjust='spacingAndGlyphs' stroke='#333333' stroke-width='0.1'>4.2</text>
<text x='552.56' y='206.49' font-size='6.0' text-anchor='middle' fill='#333333' textLength='7.17' lengthAdjust='spacingAndGlyphs' stroke='#333333' stroke-width='0.1'>8.3</text>
<text x='552.56' y='200.34' font-size='6.0' text-anchor='middle' fill='#333333' textLength='7.17' lengthAdjust='spacingAndGlyphs' stroke='#333333' stroke-width='0.1'>7.1</text>
<text x='552.56' y='187.09' font-size='6.0' text-anchor='middle' fill='#333333' textLength='10.04' lengthAdjust='spacingAndGlyphs' stroke='#333333' stroke-width='0.1'>26.2</text>
<text x='552.56' y='174.18' font-size='6.0' text-anchor='middle' fill='#333333' textLength='7.17' lengthAdjust='spacingAndGlyphs' stroke='#333333' stroke-width='0.1'>6.6</text>
<text x='552.56' y='159.63' font-size='6.0' text-anchor='middle' fill='#333333' textLength='10.04' lengthAdjust='spacingAndGlyphs' stroke='#333333' stroke-width='0.1'>29.8</text>
<text x='552.56' y='145.74' font-size='6.0' text-anchor='middle' fill='#333333' textLength='7.17' lengthAdjust='spacingAndGlyphs' stroke='#333333' stroke-width='0.1'>4.2</text>
<text x='552.56' y='232.40' font-size='6.0' text-anchor='middle' fill='#404040' textLength='22.60' lengthAdjust='spacingAndGlyphs' stroke='#404040' stroke-width='0.12'>Crossbred</text>
<rect x='577.37' y='219.90' width='12.20' height='1.41' fill='#4F81BD'/>
<rect x='577.37' y='218.90' width='12.20' height='1.01' fill='#C0504D'/>
<rect x='577.37' y='217.90' width='12.20' height='1.01' fill='#8064A2'/>
<rect x='577.37' y='214.70' width='12.20' height='3.21' fill='#4BACC6'/>
<rect x='577.37' y='206.70' width='12.20' height='8.01' fill='#F79646'/>
<rect x='577.37' y='197.09' width='12.20' height='9.61' fill='#2C4D75'/>
<rect x='577.37' y='185.89' width='12.20' height='11.21' fill='#772C2A'/>
<rect x='577.37' y='172.89' width='12.20' height='13.01' fill='#5F7530'/>
<rect x='577.37' y='148.80' width='12.20' height='24.10' fill='#D99694'/>
<rect x='577.37' y='141.20' width='12.20' height='7.61' fill='#276A7C'/>
<text x='583.47' y='223.30' font-size='6.0' text-anchor='middle' fill='#333333' textLength='7.17' lengthAdjust='spacingAndGlyphs' stroke='#333333' stroke-width='0.1'>1.1</text>
<text x='583.47' y='221.10' font-size='6.0' text-anchor='middle' fill='#333333' textLength='7.17' lengthAdjust='spacingAndGlyphs' stroke='#333333' stroke-width='0.1'>1.1</text>
<text x='583.47' y='213.40' font-size='6.0' text-anchor='middle' fill='#333333' textLength='7.17' lengthAdjust='spacingAndGlyphs' stroke='#333333' stroke-width='0.1'>9.4</text>
<text x='583.47' y='204.60' font-size='6.0' text-anchor='middle' fill='#333333' textLength='10.04' lengthAdjust='spacingAndGlyphs' stroke='#333333' stroke-width='0.1'>12.9</text>
<text x='583.47' y='194.19' font-size='6.0' text-anchor='middle' fill='#333333' textLength='10.04' lengthAdjust='spacingAndGlyphs' stroke='#333333' stroke-width='0.1'>14.1</text>
<text x='583.47' y='182.09' font-size='6.0' text-anchor='middle' fill='#333333' textLength='10.04' lengthAdjust='spacingAndGlyphs' stroke='#333333' stroke-width='0.1'>16.5</text>
<text x='583.47' y='163.54' font-size='6.0' text-anchor='middle' fill='#333333' textLength='10.04' lengthAdjust='spacingAndGlyphs' stroke='#333333' stroke-width='0.1'>29.4</text>
<text x='583.47' y='147.70' font-size='6.0' text-anchor='middle' fill='#333333' textLength='7.17' lengthAdjust='spacingAndGlyphs' stroke='#333333' stroke-width='0.1'>9.4</text>
<text x='583.47' y='232.40' font-size='6.0' text-anchor='middle' fill='#404040' textLength='14.43' lengthAdjust='spacingAndGlyphs' stroke='#404040' stroke-width='0.12'>Omani</text>
<rect x='608.28' y='216.27' width='12.20' height='5.04' fill='#4F81BD'/>
<rect x='608.28' y='211.24' width='12.20' height='5.04' fill='#C0504D'/>
<rect x='608.28' y='206.21' width='12.20' height='5.04' fill='#8064A2'/>
<rect x='608.28' y='201.18' width='12.20' height='5.04' fill='#4BACC6'/>
<rect x='608.28' y='191.19' width='12.20' height='9.99' fill='#F79646'/>
<rect x='608.28' y='181.21' width='12.20' height='9.99' fill='#772C2A'/>
<rect x='608.28' y='166.20' width='12.20' height='15.02' fill='#5F7530'/>
<rect x='608.28' y='146.23' width='12.20' height='19.98' fill='#D99694'/>
<rect x='608.28' y='141.20' width='12.20' height='5.04' fill='#276A7C'/>
<text x='614.38' y='221.48' font-size='6.0' text-anchor='middle' fill='#333333' textLength='7.17' lengthAdjust='spacingAndGlyphs' stroke='#333333' stroke-width='0.1'>6.3</text>
<text x='614.38' y='216.45' font-size='6.0' text-anchor='middle' fill='#333333' textLength='7.17' lengthAdjust='spacingAndGlyphs' stroke='#333333' stroke-width='0.1'>6.3</text>
<text x='614.38' y='211.42' font-size='6.0' text-anchor='middle' fill='#333333' textLength='7.17' lengthAdjust='spacingAndGlyphs' stroke='#333333' stroke-width='0.1'>6.3</text>
<text x='614.38' y='206.39' font-size='6.0' text-anchor='middle' fill='#333333' textLength='7.17' lengthAdjust='spacingAndGlyphs' stroke='#333333' stroke-width='0.1'>6.3</text>
<text x='614.38' y='198.88' font-size='6.0' text-anchor='middle' fill='#333333' textLength='10.04' lengthAdjust='spacingAndGlyphs' stroke='#333333' stroke-width='0.1'>12.5</text>
<text x='614.38' y='188.90' font-size='6.0' text-anchor='middle' fill='#333333' textLength='10.04' lengthAdjust='spacingAndGlyphs' stroke='#333333' stroke-width='0.1'>12.5</text>
<text x='614.38' y='176.40' font-size='6.0' text-anchor='middle' fill='#333333' textLength='10.04' lengthAdjust='spacingAndGlyphs' stroke='#333333' stroke-width='0.1'>18.8</text>
<text x='614.38' y='158.91' font-size='6.0' text-anchor='middle' fill='#333333' textLength='5.74' lengthAdjust='spacingAndGlyphs' stroke='#333333' stroke-width='0.1'>25</text>
<text x='614.38' y='146.42' font-size='6.0' text-anchor='middle' fill='#333333' textLength='7.17' lengthAdjust='spacingAndGlyphs' stroke='#333333' stroke-width='0.1'>6.3</text>
<text x='614.38' y='232.40' font-size='6.0' text-anchor='middle' fill='#404040' textLength='19.88' lengthAdjust='spacingAndGlyphs' stroke='#404040' stroke-width='0.12'>Pakistani</text>
<rect x='639.19' y='217.38' width='12.20' height='3.93' fill='#C0504D'/>
<rect x='639.19' y='215.86' width='12.20' height='1.53' fill='#9BBB59'/>
<rect x='639.19' y='208.99' width='12.20' height='6.88' fill='#8064A2'/>
<rect x='639.19' y='207.59' width='12.20' height='1.41' fill='#4BACC6'/>
<rect x='639.19' y='195.00' width='12.20' height='12.60' fill='#F79646'/>
<rect x='639.19' y='189.88' width='12.20' height='5.13' fill='#2C4D75'/>
<rect x='639.19' y='156.39' width='12.20' height='33.50' fill='#772C2A'/>
<rect x='639.19' y='149.99' width='12.20' height='6.41' fill='#5F7530'/>
<rect x='639.19' y='141.20' width='12.20' height='8.80' fill='#D99694'/>
<text x='645.29' y='222.04' font-size='6.0' text-anchor='middle' fill='#333333' textLength='7.17' lengthAdjust='spacingAndGlyphs' stroke='#333333' stroke-width='0.1'>4.7</text>
<text x='645.29' y='215.13' font-size='6.0' text-anchor='middle' fill='#333333' textLength='7.17' lengthAdjust='spacingAndGlyphs' stroke='#333333' stroke-width='0.1'>9.4</text>
<text x='645.29' y='210.99' font-size='6.0' text-anchor='middle' fill='#333333' textLength='7.17' lengthAdjust='spacingAndGlyphs' stroke='#333333' stroke-width='0.1'>1.6</text>
<text x='645.29' y='203.99' font-size='6.0' text-anchor='middle' fill='#333333' textLength='10.04' lengthAdjust='spacingAndGlyphs' stroke='#333333' stroke-width='0.1'>15.6</text>
<text x='645.29' y='195.14' font-size='6.0' text-anchor='middle' fill='#333333' textLength='7.17' lengthAdjust='spacingAndGlyphs' stroke='#333333' stroke-width='0.1'>6.3</text>
<text x='645.29' y='175.84' font-size='6.0' text-anchor='middle' fill='#333333' textLength='10.04' lengthAdjust='spacingAndGlyphs' stroke='#333333' stroke-width='0.1'>42.2</text>
<text x='645.29' y='155.89' font-size='6.0' text-anchor='middle' fill='#333333' textLength='7.17' lengthAdjust='spacingAndGlyphs' stroke='#333333' stroke-width='0.1'>7.8</text>
<text x='645.29' y='148.30' font-size='6.0' text-anchor='middle' fill='#333333' textLength='10.04' lengthAdjust='spacingAndGlyphs' stroke='#333333' stroke-width='0.1'>10.9</text>
<text x='645.29' y='232.40' font-size='6.0' text-anchor='middle' fill='#404040' textLength='26.96' lengthAdjust='spacingAndGlyphs' stroke='#404040' stroke-width='0.12'>Rare breeds</text>
<rect x='18.00' y='342.50' width='307.60' height='1' fill='#EBEBEB'/>
<text x='12.20' y='345.30' font-size='6.4' text-anchor='end' fill='#404040' textLength='2.64' lengthAdjust='spacingAndGlyphs' stroke='#404040' stroke-width='0.12'>0</text>
<rect x='18.00' y='326.54' width='307.60' height='1' fill='#EBEBEB'/>
<text x='12.20' y='329.34' font-size='6.4' text-anchor='end' fill='#404040' textLength='5.28' lengthAdjust='spacingAndGlyphs' stroke='#404040' stroke-width='0.12'>20</text>
<rect x='18.00' y='310.58' width='307.60' height='1' fill='#EBEBEB'/>
<text x='12.20' y='313.38' font-size='6.4' text-anchor='end' fill='#404040' textLength='5.28' lengthAdjust='spacingAndGlyphs' stroke='#404040' stroke-width='0.12'>40</text>
<rect x='18.00' y='294.62' width='307.60' height='1' fill='#EBEBEB'/>
<text x='12.20' y='297.42' font-size='6.4' text-anchor='end' fill='#404040' textLength='5.28' lengthAdjust='spacingAndGlyphs' stroke='#404040' stroke-width='0.12'>60</text>
<rect x='18.00' y='278.66' width='307.60' height='1' fill='#EBEBEB'/>
<text x='12.20' y='281.46' font-size='6.4' text-anchor='end' fill='#404040' textLength='5.28' lengthAdjust='spacingAndGlyphs' stroke='#404040' stroke-width='0.12'>80</text>
<rect x='18.00' y='262.70' width='307.60' height='1' fill='#EBEBEB'/>
<text x='12.20' y='265.50' font-size='6.4' text-anchor='end' fill='#404040' textLength='7.92' lengthAdjust='spacingAndGlyphs' stroke='#404040' stroke-width='0.12'>100</text>
<text x='131.10' y='253.70' font-size='8.8' text-anchor='start' fill='#404040' textLength='67.70' lengthAdjust='spacingAndGlyphs' stroke='#404040' stroke-width='0.12'>Breast feather color</text>
<rect x='27.10' y='339.49' width='12.20' height='3.52' fill='#9BBB59'/>
<rect x='27.10' y='335.98' width='12.20' height='3.52' fill='#8064A2'/>
<rect x='27.10' y='332.48' width='12.20' height='3.52' fill='#4BACC6'/>
<rect x='27.10' y='322.11' width='12.20' height='10.37' fill='#5F7530'/>
<rect x='27.10' y='270.14' width='12.20' height='51.99' fill='#D99694'/>
<rect x='27.10' y='263.20' width='12.20' height='6.95' fill='#276A7C'/>
<text x='33.20' y='343.95' font-size='6.0' text-anchor='middle' fill='#333333' textLength='7.17' lengthAdjust='spacingAndGlyphs' stroke='#333333' stroke-width='0.1'>4.4</text>
<text x='33.20' y='340.44' font-size='6.0' text-anchor='middle' fill='#333333' textLength='7.17' lengthAdjust='spacingAndGlyphs' stroke='#333333' stroke-width='0.1'>4.4</text>
<text x='33.20' y='336.93' font-size='6.0' text-anchor='middle' fill='#333333' textLength='7.17' lengthAdjust='spacingAndGlyphs' stroke='#333333' stroke-width='0.1'>4.4</text>
<text x='33.20' y='330.00' font-size='6.0' text-anchor='middle' fill='#333333' textLength='5.74' lengthAdjust='spacingAndGlyphs' stroke='#333333' stroke-width='0.1'>13</text>
<text x='33.20' y='298.82' font-size='6.0' text-anchor='middle' fill='#333333' textLength='10.04' lengthAdjust='spacingAndGlyphs' stroke='#333333' stroke-width='0.1'>65.2</text>
<text x='33.20' y='269.37' font-size='6.0' text-anchor='middle' fill='#333333' textLength='7.17' lengthAdjust='spacingAndGlyphs' stroke='#333333' stroke-width='0.1'>8.7</text>
<text x='33.20' y='354.10' font-size='6.0' text-anchor='middle' fill='#404040' textLength='19.88' lengthAdjust='spacingAndGlyphs' stroke='#404040' stroke-width='0.12'>Brahman</text>
<rect x='57.87' y='332.66' width='12.20' height='10.35' fill='#4F81BD'/>
<rect x='57.87' y='326.97' width='12.20' height='5.70' fill='#9BBB59'/>
<rect x='57.87' y='310.33' width='12.20' height='16.64' fill='#8064A2'/>
<rect x='57.87' y='296.79' width='12.20' height='13.56' fill='#4BACC6'/>
<rect x='57.87' y='294.98' width='12.20' height='1.81' fill='#F79646'/>
<rect x='57.87' y='290.37' width='12.20' height='4.62' fill='#2C4D75'/>
<rect x='57.87' y='284.84' width='12.20' height='5.54' fill='#772C2A'/>
<rect x='57.87' y='284.36' width='12.20' height='0.49' fill='#5F7530'/>
<rect x='57.87' y='264.00' width='12.20' height='20.37' fill='#D99694'/>
<rect x='57.87' y='263.20' width='12.20' height='0.81' fill='#276A7C'/>
<text x='63.97' y='340.53' font-size='6.0' text-anchor='middle' fill='#333333' textLength='10.04' lengthAdjust='spacingAndGlyphs' stroke='#333333' stroke-width='0.1'>13.8</text>
<text x='63.97' y='332.51' font-size='6.0' text-anchor='middle' fill='#333333' textLength='7.17' lengthAdjust='spacingAndGlyphs' stroke='#333333' stroke-width='0.1'>6.9</text>
<text x='63.97' y='321.35' font-size='6.0' text-anchor='middle' fill='#333333' textLength='10.04' lengthAdjust='spacingAndGlyphs' stroke='#333333' stroke-width='0.1'>21.1</text>
<text x='63.97' y='306.26' font-size='6.0' text-anchor='middle' fill='#333333' textLength='10.04' lengthAdjust='spacingAndGlyphs' stroke='#333333' stroke-width='0.1'>16.4</text>
<text x='63.97' y='295.38' font-size='6.0' text-anchor='middle' fill='#333333' textLength='7.17' lengthAdjust='spacingAndGlyphs' stroke='#333333' stroke-width='0.1'>6.9</text>
<text x='63.97' y='290.31' font-size='6.0' text-anchor='middle' fill='#333333' textLength='7.17' lengthAdjust='spacingAndGlyphs' stroke='#333333' stroke-width='0.1'>6.9</text>
<text x='63.97' y='287.30' font-size='6.0' text-anchor='middle' fill='#333333' textLength='7.17' lengthAdjust='spacingAndGlyphs' stroke='#333333' stroke-width='0.1'>0.4</text>
<text x='63.97' y='276.88' font-size='6.0' text-anchor='middle' fill='#333333' textLength='5.74' lengthAdjust='spacingAndGlyphs' stroke='#333333' stroke-width='0.1'>25</text>
<text x='63.97' y='266.30' font-size='6.0' text-anchor='middle' fill='#333333' textLength='7.17' lengthAdjust='spacingAndGlyphs' stroke='#333333' stroke-width='0.1'>1.3</text>
<text x='63.97' y='354.10' font-size='6.0' text-anchor='middle' fill='#404040' textLength='13.34' lengthAdjust='spacingAndGlyphs' stroke='#404040' stroke-width='0.12'>Fancy</text>
<rect x='88.64' y='283.15' width='12.20' height='59.86' fill='#8064A2'/>
<rect x='88.64' y='269.82' width='12.20' height='13.34' fill='#4BACC6'/>
<rect x='88.64' y='263.20' width='12.20' height='6.63' fill='#772C2A'/>
<text x='94.74' y='315.77' font-size='6.0' text-anchor='middle' fill='#333333' textLength='5.74' lengthAdjust='spacingAndGlyphs' stroke='#333333' stroke-width='0.1'>75</text>
<text x='94.74' y='279.19' font-size='6.0' text-anchor='middle' fill='#333333' textLength='10.04' lengthAdjust='spacingAndGlyphs' stroke='#333333' stroke-width='0.1'>16.7</text>
<text x='94.74' y='269.21' font-size='6.0' text-anchor='middle' fill='#333333' textLength='7.17' lengthAdjust='spacingAndGlyphs' stroke='#333333' stroke-width='0.1'>8.3</text>
<text x='94.74' y='354.10' font-size='6.0' text-anchor='middle' fill='#404040' textLength='16.06' lengthAdjust='spacingAndGlyphs' stroke='#404040' stroke-width='0.12'>Fayomi</text>
<rect x='119.41' y='339.65' width='12.20' height='3.36' fill='#C0504D'/>
<rect x='119.41' y='336.30' width='12.20' height='3.36' fill='#4BACC6'/>
<rect x='119.41' y='326.32' width='12.20' height='9.99' fill='#2C4D75'/>
<rect x='119.41' y='319.70' width='12.20' height='6.63' fill='#772C2A'/>
<rect x='119.41' y='313.07' width='12.20' height='6.63' fill='#5F7530'/>
<rect x='119.41' y='276.53' width='12.20' height='36.56' fill='#D99694'/>
<rect x='119.41' y='263.20' width='12.20' height='13.34' fill='#276A7C'/>
<text x='125.51' y='344.02' font-size='6.0' text-anchor='middle' fill='#333333' textLength='7.17' lengthAdjust='spacingAndGlyphs' stroke='#333333' stroke-width='0.1'>4.2</text>
<text x='125.51' y='340.67' font-size='6.0' text-anchor='middle' fill='#333333' textLength='7.17' lengthAdjust='spacingAndGlyphs' stroke='#333333' stroke-width='0.1'>4.2</text>
<text x='125.51' y='334.01' font-size='6.0' text-anchor='middle' fill='#333333' textLength='10.04' lengthAdjust='spacingAndGlyphs' stroke='#333333' stroke-width='0.1'>12.5</text>
<text x='125.51' y='325.71' font-size='6.0' text-anchor='middle' fill='#333333' textLength='7.17' lengthAdjust='spacingAndGlyphs' stroke='#333333' stroke-width='0.1'>8.3</text>
<text x='125.51' y='319.09' font-size='6.0' text-anchor='middle' fill='#333333' textLength='7.17' lengthAdjust='spacingAndGlyphs' stroke='#333333' stroke-width='0.1'>8.3</text>
<text x='125.51' y='297.50' font-size='6.0' text-anchor='middle' fill='#333333' textLength='10.04' lengthAdjust='spacingAndGlyphs' stroke='#333333' stroke-width='0.1'>45.8</text>
<text x='125.51' y='272.56' font-size='6.0' text-anchor='middle' fill='#333333' textLength='10.04' lengthAdjust='spacingAndGlyphs' stroke='#333333' stroke-width='0.1'>16.7</text>
<text x='125.51' y='354.10' font-size='6.0' text-anchor='middle' fill='#404040' textLength='15.80' lengthAdjust='spacingAndGlyphs' stroke='#404040' stroke-width='0.12'>Kuwaiti</text>
<rect x='150.18' y='337.99' width='12.20' height='5.02' fill='#4F81BD'/>
<rect x='150.18' y='332.98' width='12.20' height='5.02' fill='#C0504D'/>
<rect x='150.18' y='327.96' width='12.20' height='5.02' fill='#9BBB59'/>
<rect x='150.18' y='322.95' width='12.20' height='5.02' fill='#8064A2'/>
<rect x='150.18' y='313.01' width='12.20' height='9.96' fill='#4BACC6'/>
<rect x='150.18' y='298.05' width='12.20' height='14.97' fill='#2C4D75'/>
<rect x='150.18' y='283.09' width='12.20' height='14.97' fill='#772C2A'/>
<rect x='150.18' y='263.20' width='12.20' height='19.90' fill='#D99694'/>
<text x='156.28' y='343.19' font-size='6.0' text-anchor='middle' fill='#333333' textLength='7.17' lengthAdjust='spacingAndGlyphs' stroke='#333333' stroke-width='0.1'>6.3</text>
<text x='156.28' y='338.18' font-size='6.0' text-anchor='middle' fill='#333333' textLength='7.17' lengthAdjust='spacingAndGlyphs' stroke='#333333' stroke-width='0.1'>6.3</text>
<text x='156.28' y='333.17' font-size='6.0' text-anchor='middle' fill='#333333' textLength='7.17' lengthAdjust='spacingAndGlyphs' stroke='#333333' stroke-width='0.1'>6.3</text>
<text x='156.28' y='328.16' font-size='6.0' text-anchor='middle' fill='#333333' textLength='7.17' lengthAdjust='spacingAndGlyphs' stroke='#333333' stroke-width='0.1'>6.3</text>
<text x='156.28' y='320.68' font-size='6.0' text-anchor='middle' fill='#333333' textLength='10.04' lengthAdjust='spacingAndGlyphs' stroke='#333333' stroke-width='0.1'>12.5</text>
<text x='156.28' y='308.23' font-size='6.0' text-anchor='middle' fill='#333333' textLength='10.04' lengthAdjust='spacingAndGlyphs' stroke='#333333' stroke-width='0.1'>18.8</text>
<text x='156.28' y='293.27' font-size='6.0' text-anchor='middle' fill='#333333' textLength='10.04' lengthAdjust='spacingAndGlyphs' stroke='#333333' stroke-width='0.1'>18.8</text>
<text x='156.28' y='275.85' font-size='6.0' text-anchor='middle' fill='#333333' textLength='5.74' lengthAdjust='spacingAndGlyphs' stroke='#333333' stroke-width='0.1'>25</text>
<text x='156.28' y='354.10' font-size='6.0' text-anchor='middle' fill='#404040' textLength='11.44' lengthAdjust='spacingAndGlyphs' stroke='#404040' stroke-width='0.12'>Karla</text>
<rect x='180.95' y='340.11' width='12.20' height='2.90' fill='#4F81BD'/>
<rect x='180.95' y='336.50' width='12.20' height='3.62' fill='#C0504D'/>
<rect x='180.95' y='333.49' width='12.20' height='3.02' fill='#9BBB59'/>
<rect x='180.95' y='326.99' width='12.20' height='6.51' fill='#8064A2'/>
<rect x='180.95' y='314.88' width='12.20' height='12.13' fill='#4BACC6'/>
<rect x='180.95' y='311.47' width='12.20' height='3.42' fill='#F79646'/>
<rect x='180.95' y='305.93' width='12.20' height='5.55' fill='#2C4D75'/>
<rect x='180.95' y='296.78' width='12.20' height='9.16' fill='#772C2A'/>
<rect x='180.95' y='291.49' width='12.20' height='5.31' fill='#5F7530'/>
<rect x='180.95' y='266.21' width='12.20' height='25.29' fill='#D99694'/>
<rect x='180.95' y='263.20' width='12.20' height='3.02' fill='#276A7C'/>
<text x='187.05' y='344.26' font-size='6.0' text-anchor='middle' fill='#333333' textLength='7.17' lengthAdjust='spacingAndGlyphs' stroke='#333333' stroke-width='0.1'>3.8</text>
<text x='187.05' y='341.01' font-size='6.0' text-anchor='middle' fill='#333333' textLength='7.17' lengthAdjust='spacingAndGlyphs' stroke='#333333' stroke-width='0.1'>4.2</text>
<text x='187.05' y='332.94' font-size='6.0' text-anchor='middle' fill='#333333' textLength='7.17' lengthAdjust='spacingAndGlyphs' stroke='#333333' stroke-width='0.1'>8.4</text>
<text x='187.05' y='323.63' font-size='6.0' text-anchor='middle' fill='#333333' textLength='10.04' lengthAdjust='spacingAndGlyphs' stroke='#333333' stroke-width='0.1'>14.8</text>
<text x='187.05' y='315.87' font-size='6.0' text-anchor='middle' fill='#333333' textLength='7.17' lengthAdjust='spacingAndGlyphs' stroke='#333333' stroke-width='0.1'>4.2</text>
<text x='187.05' y='311.40' font-size='6.0' text-anchor='middle' fill='#333333' textLength='7.17' lengthAdjust='spacingAndGlyphs' stroke='#333333' stroke-width='0.1'>6.8</text>
<text x='187.05' y='304.05' font-size='6.0' text-anchor='middle' fill='#333333' textLength='9.66' lengthAdjust='spacingAndGlyphs' stroke='#333333' stroke-width='0.1'>11.9</text>
<text x='187.05' y='296.83' font-size='6.0' text-anchor='middle' fill='#333333' textLength='7.17' lengthAdjust='spacingAndGlyphs' stroke='#333333' stroke-width='0.1'>6.2</text>
<text x='187.05' y='281.55' font-size='6.0' text-anchor='middle' fill='#333333' textLength='10.04' lengthAdjust='spacingAndGlyphs' stroke='#333333' stroke-width='0.1'>31.4</text>
<text x='187.05' y='267.40' font-size='6.0' text-anchor='middle' fill='#333333' textLength='7.17' lengthAdjust='spacingAndGlyphs' stroke='#333333' stroke-width='0.1'>3.8</text>
<text x='187.05' y='354.10' font-size='6.0' text-anchor='middle' fill='#404040' textLength='11.71' lengthAdjust='spacingAndGlyphs' stroke='#404040' stroke-width='0.12'>Local</text>
<rect x='211.72' y='341.31' width='12.20' height='1.70' fill='#C0504D'/>
<rect x='211.72' y='336.90' width='12.20' height='4.42' fill='#9BBB59'/>
<rect x='211.72' y='328.68' width='12.20' height='8.23' fill='#8064A2'/>
<rect x='211.72' y='314.84' width='12.20' height='13.85' fill='#4BACC6'/>
<rect x='211.72' y='310.02' width='12.20' height='4.82' fill='#F79646'/>
<rect x='211.72' y='306.33' width='12.20' height='3.70' fill='#2C4D75'/>
<rect x='211.72' y='297.02' width='12.20' height='9.32' fill='#772C2A'/>
<rect x='211.72' y='292.21' width='12.20' height='4.82' fill='#5F7530'/>
<rect x='211.72' y='264.60' width='12.20' height='27.61' fill='#D99694'/>
<rect x='211.72' y='263.20' width='12.20' height='1.41' fill='#276A7C'/>
<text x='217.82' y='341.81' font-size='6.0' text-anchor='middle' fill='#333333' textLength='7.17' lengthAdjust='spacingAndGlyphs' stroke='#333333' stroke-width='0.1'>5.4</text>
<text x='217.82' y='335.49' font-size='6.0' text-anchor='middle' fill='#333333' textLength='10.04' lengthAdjust='spacingAndGlyphs' stroke='#333333' stroke-width='0.1'>10.7</text>
<text x='217.82' y='324.46' font-size='6.0' text-anchor='middle' fill='#333333' textLength='10.04' lengthAdjust='spacingAndGlyphs' stroke='#333333' stroke-width='0.1'>16.7</text>
<text x='217.82' y='315.13' font-size='6.0' text-anchor='middle' fill='#333333' textLength='2.87' lengthAdjust='spacingAndGlyphs' stroke='#333333' stroke-width='0.1'>6</text>
<text x='217.82' y='304.38' font-size='6.0' text-anchor='middle' fill='#333333' textLength='10.04' lengthAdjust='spacingAndGlyphs' stroke='#333333' stroke-width='0.1'>12.5</text>
<text x='217.82' y='297.31' font-size='6.0' text-anchor='middle' fill='#333333' textLength='7.17' lengthAdjust='spacingAndGlyphs' stroke='#333333' stroke-width='0.1'>5.4</text>
<text x='217.82' y='281.11' font-size='6.0' text-anchor='middle' fill='#333333' textLength='10.04' lengthAdjust='spacingAndGlyphs' stroke='#333333' stroke-width='0.1'>33.9</text>
<text x='217.82' y='266.60' font-size='6.0' text-anchor='middle' fill='#333333' textLength='7.17' lengthAdjust='spacingAndGlyphs' stroke='#333333' stroke-width='0.1'>2.4</text>
<text x='217.82' y='354.10' font-size='6.0' text-anchor='middle' fill='#404040' textLength='22.60' lengthAdjust='spacingAndGlyphs' stroke='#404040' stroke-width='0.12'>Crossbred</text>
<rect x='242.49' y='340.99' width='12.20' height='2.02' fill='#4F81BD'/>
<rect x='242.49' y='339.99' width='12.20' height='1.01' fill='#C0504D'/>
<rect x='242.49' y='338.99' width='12.20' height='1.01' fill='#9BBB59'/>
<rect x='242.49' y='334.98' width='12.20' height='4.02' fill='#8064A2'/>
<rect x='242.49' y='330.08' width='12.20' height='4.90' fill='#4BACC6'/>
<rect x='242.49' y='325.27' width='12.20' height='4.82' fill='#F79646'/>
<rect x='242.49' y='316.04' width='12.20' height='9.24' fill='#2C4D75'/>
<rect x='242.49' y='310.02' width='12.20' height='6.03' fill='#772C2A'/>
<rect x='242.49' y='302.80' width='12.20' height='7.23' fill='#5F7530'/>
<rect x='242.49' y='268.90' width='12.20' height='33.91' fill='#D99694'/>
<rect x='242.49' y='263.20' width='12.20' height='5.71' fill='#276A7C'/>
<text x='248.59' y='344.70' font-size='6.0' text-anchor='middle' fill='#333333' textLength='7.17' lengthAdjust='spacingAndGlyphs' stroke='#333333' stroke-width='0.1'>2.4</text>
<text x='248.59' y='339.68' font-size='6.0' text-anchor='middle' fill='#333333' textLength='7.17' lengthAdjust='spacingAndGlyphs' stroke='#333333' stroke-width='0.1'>5.9</text>
<text x='248.59' y='335.23' font-size='6.0' text-anchor='middle' fill='#333333' textLength='7.17' lengthAdjust='spacingAndGlyphs' stroke='#333333' stroke-width='0.1'>5.9</text>
<text x='248.59' y='330.37' font-size='6.0' text-anchor='middle' fill='#333333' textLength='7.17' lengthAdjust='spacingAndGlyphs' stroke='#333333' stroke-width='0.1'>5.9</text>
<text x='248.59' y='323.35' font-size='6.0' text-anchor='middle' fill='#333333' textLength='9.66' lengthAdjust='spacingAndGlyphs' stroke='#333333' stroke-width='0.1'>11.8</text>
<text x='248.59' y='315.73' font-size='6.0' text-anchor='middle' fill='#333333' textLength='7.17' lengthAdjust='spacingAndGlyphs' stroke='#333333' stroke-width='0.1'>7.1</text>
<text x='248.59' y='309.11' font-size='6.0' text-anchor='middle' fill='#333333' textLength='7.17' lengthAdjust='spacingAndGlyphs' stroke='#333333' stroke-width='0.1'>9.4</text>
<text x='248.59' y='288.55' font-size='6.0' text-anchor='middle' fill='#333333' textLength='10.04' lengthAdjust='spacingAndGlyphs' stroke='#333333' stroke-width='0.1'>42.4</text>
<text x='248.59' y='268.75' font-size='6.0' text-anchor='middle' fill='#333333' textLength='7.17' lengthAdjust='spacingAndGlyphs' stroke='#333333' stroke-width='0.1'>7.1</text>
<text x='248.59' y='354.10' font-size='6.0' text-anchor='middle' fill='#404040' textLength='14.43' lengthAdjust='spacingAndGlyphs' stroke='#404040' stroke-width='0.12'>Omani</text>
<rect x='273.26' y='337.98' width='12.20' height='5.03' fill='#C0504D'/>
<rect x='273.26' y='318.07' width='12.20' height='19.92' fill='#4BACC6'/>
<rect x='273.26' y='308.12' width='12.20' height='9.97' fill='#F79646'/>
<rect x='273.26' y='293.14' width='12.20' height='14.98' fill='#772C2A'/>
<rect x='273.26' y='288.13' width='12.20' height='5.03' fill='#5F7530'/>
<rect x='273.26' y='268.22' width='12.20' height='19.92' fill='#D99694'/>
<rect x='273.26' y='263.20' width='12.20' height='5.03' fill='#276A7C'/>
<text x='279.36' y='343.19' font-size='6.0' text-anchor='middle' fill='#333333' textLength='7.17' lengthAdjust='spacingAndGlyphs' stroke='#333333' stroke-width='0.1'>6.3</text>
<text x='279.36' y='330.73' font-size='6.0' text-anchor='middle' fill='#333333' textLength='5.74' lengthAdjust='spacingAndGlyphs' stroke='#333333' stroke-width='0.1'>25</text>
<text x='279.36' y='315.79' font-size='6.0' text-anchor='middle' fill='#333333' textLength='10.04' lengthAdjust='spacingAndGlyphs' stroke='#333333' stroke-width='0.1'>12.5</text>
<text x='279.36' y='303.33' font-size='6.0' text-anchor='middle' fill='#333333' textLength='10.04' lengthAdjust='spacingAndGlyphs' stroke='#333333' stroke-width='0.1'>18.8</text>
<text x='279.36' y='293.34' font-size='6.0' text-anchor='middle' fill='#333333' textLength='7.17' lengthAdjust='spacingAndGlyphs' stroke='#333333' stroke-width='0.1'>6.3</text>
<text x='279.36' y='280.87' font-size='6.0' text-anchor='middle' fill='#333333' textLength='5.74' lengthAdjust='spacingAndGlyphs' stroke='#333333' stroke-width='0.1'>25</text>
<text x='279.36' y='268.41' font-size='6.0' text-anchor='middle' fill='#333333' textLength='7.17' lengthAdjust='spacingAndGlyphs' stroke='#333333' stroke-width='0.1'>6.3</text>
<text x='279.36' y='354.10' font-size='6.0' text-anchor='middle' fill='#404040' textLength='19.88' lengthAdjust='spacingAndGlyphs' stroke='#404040' stroke-width='0.12'>Pakistani</text>
<rect x='304.03' y='340.59' width='12.20' height='2.42' fill='#4F81BD'/>
<rect x='304.03' y='339.59' width='12.20' height='1.01' fill='#C0504D'/>
<rect x='304.03' y='316.92' width='12.20' height='22.68' fill='#8064A2'/>
<rect x='304.03' y='314.84' width='12.20' height='2.10' fill='#4BACC6'/>
<rect x='304.03' y='311.22' width='12.20' height='3.62' fill='#F79646'/>
<rect x='304.03' y='307.41' width='12.20' height='3.82' fill='#2C4D75'/>
<rect x='304.03' y='291.85' width='12.20' height='15.58' fill='#772C2A'/>
<rect x='304.03' y='286.15' width='12.20' height='5.71' fill='#5F7530'/>
<rect x='304.03' y='263.20' width='12.20' height='22.96' fill='#D99694'/>
<text x='310.13' y='344.50' font-size='6.0' text-anchor='middle' fill='#333333' textLength='7.17' lengthAdjust='spacingAndGlyphs' stroke='#333333' stroke-width='0.1'>1.6</text>
<text x='310.13' y='330.96' font-size='6.0' text-anchor='middle' fill='#333333' textLength='10.04' lengthAdjust='spacingAndGlyphs' stroke='#333333' stroke-width='0.1'>28.1</text>
<text x='310.13' y='318.58' font-size='6.0' text-anchor='middle' fill='#333333' textLength='7.17' lengthAdjust='spacingAndGlyphs' stroke='#333333' stroke-width='0.1'>3.1</text>
<text x='310.13' y='315.73' font-size='6.0' text-anchor='middle' fill='#333333' textLength='7.17' lengthAdjust='spacingAndGlyphs' stroke='#333333' stroke-width='0.1'>3.1</text>
<text x='310.13' y='302.33' font-size='6.0' text-anchor='middle' fill='#333333' textLength='10.04' lengthAdjust='spacingAndGlyphs' stroke='#333333' stroke-width='0.1'>15.6</text>
<text x='310.13' y='291.70' font-size='6.0' text-anchor='middle' fill='#333333' textLength='7.17' lengthAdjust='spacingAndGlyphs' stroke='#333333' stroke-width='0.1'>7.8</text>
<text x='310.13' y='277.37' font-size='6.0' text-anchor='middle' fill='#333333' textLength='10.04' lengthAdjust='spacingAndGlyphs' stroke='#333333' stroke-width='0.1'>28.1</text>
<text x='310.13' y='354.10' font-size='6.0' text-anchor='middle' fill='#404040' textLength='26.96' lengthAdjust='spacingAndGlyphs' stroke='#404040' stroke-width='0.12'>Rare breeds</text>
<rect x='351.00' y='342.70' width='309.70' height='1' fill='#EBEBEB'/>
<text x='345.70' y='345.50' font-size='6.4' text-anchor='end' fill='#404040' textLength='2.64' lengthAdjust='spacingAndGlyphs' stroke='#404040' stroke-width='0.12'>0</text>
<rect x='351.00' y='326.70' width='309.70' height='1' fill='#EBEBEB'/>
<text x='345.70' y='329.50' font-size='6.4' text-anchor='end' fill='#404040' textLength='5.28' lengthAdjust='spacingAndGlyphs' stroke='#404040' stroke-width='0.12'>20</text>
<rect x='351.00' y='310.70' width='309.70' height='1' fill='#EBEBEB'/>
<text x='345.70' y='313.50' font-size='6.4' text-anchor='end' fill='#404040' textLength='5.28' lengthAdjust='spacingAndGlyphs' stroke='#404040' stroke-width='0.12'>40</text>
<rect x='351.00' y='294.70' width='309.70' height='1' fill='#EBEBEB'/>
<text x='345.70' y='297.50' font-size='6.4' text-anchor='end' fill='#404040' textLength='5.28' lengthAdjust='spacingAndGlyphs' stroke='#404040' stroke-width='0.12'>60</text>
<rect x='351.00' y='278.70' width='309.70' height='1' fill='#EBEBEB'/>
<text x='345.70' y='281.50' font-size='6.4' text-anchor='end' fill='#404040' textLength='5.28' lengthAdjust='spacingAndGlyphs' stroke='#404040' stroke-width='0.12'>80</text>
<rect x='351.00' y='262.70' width='309.70' height='1' fill='#EBEBEB'/>
<text x='345.70' y='265.50' font-size='6.4' text-anchor='end' fill='#404040' textLength='7.92' lengthAdjust='spacingAndGlyphs' stroke='#404040' stroke-width='0.12'>100</text>
<text x='448.40' y='253.70' font-size='8.8' text-anchor='start' fill='#404040' textLength='101.50' lengthAdjust='spacingAndGlyphs' stroke='#404040' stroke-width='0.12'>Wing secondary feather color</text>
<rect x='360.20' y='339.68' width='12.20' height='3.53' fill='#9BBB59'/>
<rect x='360.20' y='322.34' width='12.20' height='17.35' fill='#8064A2'/>
<rect x='360.20' y='318.82' width='12.20' height='3.53' fill='#4BACC6'/>
<rect x='360.20' y='311.87' width='12.20' height='6.96' fill='#5F7530'/>
<rect x='360.20' y='270.15' width='12.20' height='41.73' fill='#D99694'/>
<rect x='360.20' y='263.20' width='12.20' height='6.96' fill='#276A7C'/>
<text x='366.30' y='344.14' font-size='6.0' text-anchor='middle' fill='#333333' textLength='7.17' lengthAdjust='spacingAndGlyphs' stroke='#333333' stroke-width='0.1'>4.4</text>
<text x='366.30' y='333.71' font-size='6.0' text-anchor='middle' fill='#333333' textLength='10.04' lengthAdjust='spacingAndGlyphs' stroke='#333333' stroke-width='0.1'>21.7</text>
<text x='366.30' y='323.28' font-size='6.0' text-anchor='middle' fill='#333333' textLength='7.17' lengthAdjust='spacingAndGlyphs' stroke='#333333' stroke-width='0.1'>4.4</text>
<text x='366.30' y='318.05' font-size='6.0' text-anchor='middle' fill='#333333' textLength='7.17' lengthAdjust='spacingAndGlyphs' stroke='#333333' stroke-width='0.1'>8.7</text>
<text x='366.30' y='293.71' font-size='6.0' text-anchor='middle' fill='#333333' textLength='10.04' lengthAdjust='spacingAndGlyphs' stroke='#333333' stroke-width='0.1'>52.2</text>
<text x='366.30' y='269.38' font-size='6.0' text-anchor='middle' fill='#333333' textLength='7.17' lengthAdjust='spacingAndGlyphs' stroke='#333333' stroke-width='0.1'>8.7</text>
<text x='366.30' y='354.30' font-size='6.0' text-anchor='middle' fill='#404040' textLength='19.88' lengthAdjust='spacingAndGlyphs' stroke='#404040' stroke-width='0.12'>Brahman</text>
<rect x='391.17' y='337.40' width='12.20' height='5.81' fill='#4F81BD'/>
<rect x='391.17' y='335.60' width='12.20' height='1.81' fill='#C0504D'/>
<rect x='391.17' y='325.99' width='12.20' height='9.61' fill='#9BBB59'/>
<rect x='391.17' y='313.39' width='12.20' height='12.62' fill='#8064A2'/>
<rect x='391.17' y='310.18' width='12.20' height='3.21' fill='#4BACC6'/>
<rect x='391.17' y='305.38' width='12.20' height='4.81' fill='#F79646'/>
<rect x='391.17' y='293.70' width='12.20' height='11.70' fill='#2C4D75'/>
<rect x='391.17' y='278.89' width='12.20' height='14.82' fill='#772C2A'/>
<rect x='391.17' y='278.41' width='12.20' height='0.49' fill='#5F7530'/>
<rect x='391.17' y='268.88' width='12.20' height='9.53' fill='#D99694'/>
<rect x='391.17' y='263.20' width='12.20' height='5.69' fill='#276A7C'/>
<text x='397.27' y='343.00' font-size='6.0' text-anchor='middle' fill='#333333' textLength='7.17' lengthAdjust='spacingAndGlyphs' stroke='#333333' stroke-width='0.1'>7.3</text>
<text x='397.27' y='339.20' font-size='6.0' text-anchor='middle' fill='#333333' textLength='7.17' lengthAdjust='spacingAndGlyphs' stroke='#333333' stroke-width='0.1'>2.1</text>
<text x='397.27' y='333.49' font-size='6.0' text-anchor='middle' fill='#333333' textLength='9.66' lengthAdjust='spacingAndGlyphs' stroke='#333333' stroke-width='0.1'>11.2</text>
<text x='397.27' y='322.39' font-size='6.0' text-anchor='middle' fill='#333333' textLength='10.04' lengthAdjust='spacingAndGlyphs' stroke='#333333' stroke-width='0.1'>16.4</text>
<text x='397.27' y='314.48' font-size='6.0' text-anchor='middle' fill='#333333' textLength='7.17' lengthAdjust='spacingAndGlyphs' stroke='#333333' stroke-width='0.1'>4.3</text>
<text x='397.27' y='310.48' font-size='6.0' text-anchor='middle' fill='#333333' textLength='7.17' lengthAdjust='spacingAndGlyphs' stroke='#333333' stroke-width='0.1'>5.6</text>
<text x='397.27' y='302.24' font-size='6.0' text-anchor='middle' fill='#333333' textLength='10.04' lengthAdjust='spacingAndGlyphs' stroke='#333333' stroke-width='0.1'>14.7</text>
<text x='397.27' y='288.99' font-size='6.0' text-anchor='middle' fill='#333333' textLength='10.04' lengthAdjust='spacingAndGlyphs' stroke='#333333' stroke-width='0.1'>18.5</text>
<text x='397.27' y='281.35' font-size='6.0' text-anchor='middle' fill='#333333' textLength='7.17' lengthAdjust='spacingAndGlyphs' stroke='#333333' stroke-width='0.1'>0.9</text>
<text x='397.27' y='276.35' font-size='6.0' text-anchor='middle' fill='#333333' textLength='10.04' lengthAdjust='spacingAndGlyphs' stroke='#333333' stroke-width='0.1'>12.1</text>
<text x='397.27' y='268.74' font-size='6.0' text-anchor='middle' fill='#333333' textLength='7.17' lengthAdjust='spacingAndGlyphs' stroke='#333333' stroke-width='0.1'>6.5</text>
<text x='397.27' y='354.30' font-size='6.0' text-anchor='middle' fill='#404040' textLength='13.34' lengthAdjust='spacingAndGlyphs' stroke='#404040' stroke-width='0.12'>Fancy</text>
<rect x='422.14' y='323.22' width='12.20' height='19.99' fill='#9BBB59'/>
<rect x='422.14' y='303.24' width='12.20' height='19.99' fill='#8064A2'/>
<rect x='422.14' y='289.89' width='12.20' height='13.36' fill='#F79646'/>
<rect x='422.14' y='276.55' width='12.20' height='13.36' fill='#772C2A'/>
<rect x='422.14' y='263.20' width='12.20' height='13.36' fill='#D99694'/>
<text x='428.24' y='335.91' font-size='6.0' text-anchor='middle' fill='#333333' textLength='5.74' lengthAdjust='spacingAndGlyphs' stroke='#333333' stroke-width='0.1'>25</text>
<text x='428.24' y='315.93' font-size='6.0' text-anchor='middle' fill='#333333' textLength='5.74' lengthAdjust='spacingAndGlyphs' stroke='#333333' stroke-width='0.1'>25</text>
<text x='428.24' y='299.27' font-size='6.0' text-anchor='middle' fill='#333333' textLength='10.04' lengthAdjust='spacingAndGlyphs' stroke='#333333' stroke-width='0.1'>16.7</text>
<text x='428.24' y='285.92' font-size='6.0' text-anchor='middle' fill='#333333' textLength='10.04' lengthAdjust='spacingAndGlyphs' stroke='#333333' stroke-width='0.1'>16.7</text>
<text x='428.24' y='272.57' font-size='6.0' text-anchor='middle' fill='#333333' textLength='10.04' lengthAdjust='spacingAndGlyphs' stroke='#333333' stroke-width='0.1'>16.7</text>
<text x='428.24' y='354.30' font-size='6.0' text-anchor='middle' fill='#404040' textLength='16.06' lengthAdjust='spacingAndGlyphs' stroke='#404040' stroke-width='0.12'>Fayomi</text>
<rect x='453.11' y='333.21' width='12.20' height='10.00' fill='#4BACC6'/>
<rect x='453.11' y='323.22' width='12.20' height='10.00' fill='#2C4D75'/>
<rect x='453.11' y='313.23' width='12.20' height='10.00' fill='#772C2A'/>
<rect x='453.11' y='309.87' width='12.20' height='3.37' fill='#5F7530'/>
<rect x='453.11' y='276.55' width='12.20' height='33.34' fill='#D99694'/>
<rect x='453.11' y='263.20' width='12.20' height='13.36' fill='#276A7C'/>
<text x='459.21' y='340.90' font-size='6.0' text-anchor='middle' fill='#333333' textLength='10.04' lengthAdjust='spacingAndGlyphs' stroke='#333333' stroke-width='0.1'>12.5</text>
<text x='459.21' y='330.91' font-size='6.0' text-anchor='middle' fill='#333333' textLength='10.04' lengthAdjust='spacingAndGlyphs' stroke='#333333' stroke-width='0.1'>12.5</text>
<text x='459.21' y='320.92' font-size='6.0' text-anchor='middle' fill='#333333' textLength='10.04' lengthAdjust='spacingAndGlyphs' stroke='#333333' stroke-width='0.1'>12.5</text>
<text x='459.21' y='314.25' font-size='6.0' text-anchor='middle' fill='#333333' textLength='7.17' lengthAdjust='spacingAndGlyphs' stroke='#333333' stroke-width='0.1'>4.2</text>
<text x='459.21' y='295.91' font-size='6.0' text-anchor='middle' fill='#333333' textLength='10.04' lengthAdjust='spacingAndGlyphs' stroke='#333333' stroke-width='0.1'>41.7</text>
<text x='459.21' y='272.57' font-size='6.0' text-anchor='middle' fill='#333333' textLength='10.04' lengthAdjust='spacingAndGlyphs' stroke='#333333' stroke-width='0.1'>16.7</text>
<text x='459.21' y='354.30' font-size='6.0' text-anchor='middle' fill='#404040' textLength='15.80' lengthAdjust='spacingAndGlyphs' stroke='#404040' stroke-width='0.12'>Kuwaiti</text>
<rect x='484.08' y='338.18' width='12.20' height='5.03' fill='#4F81BD'/>
<rect x='484.08' y='333.15' width='12.20' height='5.03' fill='#C0504D'/>
<rect x='484.08' y='328.13' width='12.20' height='5.03' fill='#9BBB59'/>
<rect x='484.08' y='318.16' width='12.20' height='9.98' fill='#8064A2'/>
<rect x='484.08' y='308.19' width='12.20' height='9.98' fill='#4BACC6'/>
<rect x='484.08' y='303.16' width='12.20' height='5.03' fill='#F79646'/>
<rect x='484.08' y='283.22' width='12.20' height='19.95' fill='#2C4D75'/>
<rect x='484.08' y='268.22' width='12.20' height='15.01' fill='#772C2A'/>
<rect x='484.08' y='263.20' width='12.20' height='5.03' fill='#D99694'/>
<text x='490.18' y='343.39' font-size='6.0' text-anchor='middle' fill='#333333' textLength='7.17' lengthAdjust='spacingAndGlyphs' stroke='#333333' stroke-width='0.1'>6.3</text>
<text x='490.18' y='338.36' font-size='6.0' text-anchor='middle' fill='#333333' textLength='7.17' lengthAdjust='spacingAndGlyphs' stroke='#333333' stroke-width='0.1'>6.3</text>
<text x='490.18' y='333.34' font-size='6.0' text-anchor='middle' fill='#333333' textLength='7.17' lengthAdjust='spacingAndGlyphs' stroke='#333333' stroke-width='0.1'>6.3</text>
<text x='490.18' y='325.84' font-size='6.0' text-anchor='middle' fill='#333333' textLength='10.04' lengthAdjust='spacingAndGlyphs' stroke='#333333' stroke-width='0.1'>12.5</text>
<text x='490.18' y='315.87' font-size='6.0' text-anchor='middle' fill='#333333' textLength='10.04' lengthAdjust='spacingAndGlyphs' stroke='#333333' stroke-width='0.1'>12.5</text>
<text x='490.18' y='308.37' font-size='6.0' text-anchor='middle' fill='#333333' textLength='7.17' lengthAdjust='spacingAndGlyphs' stroke='#333333' stroke-width='0.1'>6.3</text>
<text x='490.18' y='295.89' font-size='6.0' text-anchor='middle' fill='#333333' textLength='5.74' lengthAdjust='spacingAndGlyphs' stroke='#333333' stroke-width='0.1'>25</text>
<text x='490.18' y='278.42' font-size='6.0' text-anchor='middle' fill='#333333' textLength='10.04' lengthAdjust='spacingAndGlyphs' stroke='#333333' stroke-width='0.1'>18.8</text>
<text x='490.18' y='268.41' font-size='6.0' text-anchor='middle' fill='#333333' textLength='7.17' lengthAdjust='spacingAndGlyphs' stroke='#333333' stroke-width='0.1'>6.3</text>
<text x='490.18' y='354.30' font-size='6.0' text-anchor='middle' fill='#404040' textLength='11.44' lengthAdjust='spacingAndGlyphs' stroke='#404040' stroke-width='0.12'>Karla</text>
<rect x='515.05' y='339.68' width='12.20' height='3.53' fill='#4F81BD'/>
<rect x='515.05' y='335.08' width='12.20' height='4.61' fill='#C0504D'/>
<rect x='515.05' y='333.08' width='12.20' height='2.01' fill='#9BBB59'/>
<rect x='515.05' y='324.76' width='12.20' height='8.33' fill='#8064A2'/>
<rect x='515.05' y='316.76' width='12.20' height='8.01' fill='#4BACC6'/>
<rect x='515.05' y='313.56' width='12.20' height='3.21' fill='#F79646'/>
<rect x='515.05' y='307.56' width='12.20' height='6.01' fill='#2C4D75'/>
<rect x='515.05' y='291.16' width='12.20' height='16.41' fill='#772C2A'/>
<rect x='515.05' y='284.28' width='12.20' height='6.89' fill='#5F7530'/>
<rect x='515.05' y='266.60' width='12.20' height='17.69' fill='#D99694'/>
<rect x='515.05' y='263.20' width='12.20' height='3.41' fill='#276A7C'/>
<text x='521.15' y='344.14' font-size='6.0' text-anchor='middle' fill='#333333' textLength='7.17' lengthAdjust='spacingAndGlyphs' stroke='#333333' stroke-width='0.1'>4.6</text>
<text x='521.15' y='340.08' font-size='6.0' text-anchor='middle' fill='#333333' textLength='7.17' lengthAdjust='spacingAndGlyphs' stroke='#333333' stroke-width='0.1'>5.5</text>
<text x='521.15' y='336.78' font-size='6.0' text-anchor='middle' fill='#333333' textLength='7.17' lengthAdjust='spacingAndGlyphs' stroke='#333333' stroke-width='0.1'>2.9</text>
<text x='521.15' y='331.62' font-size='6.0' text-anchor='middle' fill='#333333' textLength='10.04' lengthAdjust='spacingAndGlyphs' stroke='#333333' stroke-width='0.1'>10.4</text>
<text x='521.15' y='323.46' font-size='6.0' text-anchor='middle' fill='#333333' textLength='7.17' lengthAdjust='spacingAndGlyphs' stroke='#333333' stroke-width='0.1'>9.9</text>
<text x='521.15' y='317.86' font-size='6.0' text-anchor='middle' fill='#333333' textLength='2.87' lengthAdjust='spacingAndGlyphs' stroke='#333333' stroke-width='0.1'>4</text>
<text x='521.15' y='313.26' font-size='6.0' text-anchor='middle' fill='#333333' textLength='7.17' lengthAdjust='spacingAndGlyphs' stroke='#333333' stroke-width='0.1'>7.7</text>
<text x='521.15' y='302.06' font-size='6.0' text-anchor='middle' fill='#333333' textLength='5.74' lengthAdjust='spacingAndGlyphs' stroke='#333333' stroke-width='0.1'>21</text>
<text x='521.15' y='290.42' font-size='6.0' text-anchor='middle' fill='#333333' textLength='2.87' lengthAdjust='spacingAndGlyphs' stroke='#333333' stroke-width='0.1'>8</text>
<text x='521.15' y='278.14' font-size='6.0' text-anchor='middle' fill='#333333' textLength='10.04' lengthAdjust='spacingAndGlyphs' stroke='#333333' stroke-width='0.1'>22.1</text>
<text x='521.15' y='267.60' font-size='6.0' text-anchor='middle' fill='#333333' textLength='2.87' lengthAdjust='spacingAndGlyphs' stroke='#333333' stroke-width='0.1'>4</text>
<text x='521.15' y='354.30' font-size='6.0' text-anchor='middle' fill='#404040' textLength='11.71' lengthAdjust='spacingAndGlyphs' stroke='#404040' stroke-width='0.12'>Local</text>
<rect x='546.02' y='341.28' width='12.20' height='1.93' fill='#C0504D'/>
<rect x='546.02' y='334.16' width='12.20' height='7.13' fill='#9BBB59'/>
<rect x='546.02' y='325.27' width='12.20' height='8.89' fill='#8064A2'/>
<rect x='546.02' y='321.59' width='12.20' height='3.69' fill='#4BACC6'/>
<rect x='546.02' y='316.47' width='12.20' height='5.13' fill='#F79646'/>
<rect x='546.02' y='314.47' width='12.20' height='2.01' fill='#2C4D75'/>
<rect x='546.02' y='296.66' width='12.20' height='17.82' fill='#772C2A'/>
<rect x='546.02' y='291.37' width='12.20' height='5.29' fill='#5F7530'/>
<rect x='546.02' y='266.88' width='12.20' height='24.50' fill='#D99694'/>
<rect x='546.02' y='263.20' width='12.20' height='3.69' fill='#276A7C'/>
<text x='552.12' y='340.42' font-size='6.0' text-anchor='middle' fill='#333333' textLength='7.17' lengthAdjust='spacingAndGlyphs' stroke='#333333' stroke-width='0.1'>9.5</text>
<text x='552.12' y='332.41' font-size='6.0' text-anchor='middle' fill='#333333' textLength='10.04' lengthAdjust='spacingAndGlyphs' stroke='#333333' stroke-width='0.1'>10.7</text>
<text x='552.12' y='326.13' font-size='6.0' text-anchor='middle' fill='#333333' textLength='7.17' lengthAdjust='spacingAndGlyphs' stroke='#333333' stroke-width='0.1'>4.8</text>
<text x='552.12' y='321.73' font-size='6.0' text-anchor='middle' fill='#333333' textLength='2.87' lengthAdjust='spacingAndGlyphs' stroke='#333333' stroke-width='0.1'>6</text>
<text x='552.12' y='318.17' font-size='6.0' text-anchor='middle' fill='#333333' textLength='7.17' lengthAdjust='spacingAndGlyphs' stroke='#333333' stroke-width='0.1'>1.5</text>
<text x='552.12' y='308.26' font-size='6.0' text-anchor='middle' fill='#333333' textLength='5.74' lengthAdjust='spacingAndGlyphs' stroke='#333333' stroke-width='0.1'>22</text>
<text x='552.12' y='296.72' font-size='6.0' text-anchor='middle' fill='#333333' textLength='7.17' lengthAdjust='spacingAndGlyphs' stroke='#333333' stroke-width='0.1'>6.6</text>
<text x='552.12' y='281.83' font-size='6.0' text-anchor='middle' fill='#333333' textLength='10.04' lengthAdjust='spacingAndGlyphs' stroke='#333333' stroke-width='0.1'>30.4</text>
<text x='552.12' y='267.74' font-size='6.0' text-anchor='middle' fill='#333333' textLength='7.17' lengthAdjust='spacingAndGlyphs' stroke='#333333' stroke-width='0.1'>4.8</text>
<text x='552.12' y='354.30' font-size='6.0' text-anchor='middle' fill='#404040' textLength='22.60' lengthAdjust='spacingAndGlyphs' stroke='#404040' stroke-width='0.12'>Crossbred</text>
<rect x='576.99' y='341.12' width='12.20' height='2.09' fill='#4F81BD'/>
<rect x='576.99' y='339.44' width='12.20' height='1.69' fill='#C0504D'/>
<rect x='576.99' y='334.84' width='12.20' height='4.61' fill='#8064A2'/>
<rect x='576.99' y='331.71' width='12.20' height='3.13' fill='#4BACC6'/>
<rect x='576.99' y='326.03' width='12.20' height='5.69' fill='#F79646'/>
<rect x='576.99' y='318.03' width='12.20' height='8.01' fill='#2C4D75'/>
<rect x='576.99' y='304.74' width='12.20' height='13.30' fill='#772C2A'/>
<rect x='576.99' y='294.42' width='12.20' height='10.34' fill='#5F7530'/>
<rect x='576.99' y='270.60' width='12.20' height='23.82' fill='#D99694'/>
<rect x='576.99' y='263.20' width='12.20' height='7.41' fill='#276A7C'/>
<text x='583.09' y='344.86' font-size='6.0' text-anchor='middle' fill='#333333' textLength='7.17' lengthAdjust='spacingAndGlyphs' stroke='#333333' stroke-width='0.1'>2.4</text>
<text x='583.09' y='339.84' font-size='6.0' text-anchor='middle' fill='#333333' textLength='7.17' lengthAdjust='spacingAndGlyphs' stroke='#333333' stroke-width='0.1'>5.9</text>
<text x='583.09' y='335.98' font-size='6.0' text-anchor='middle' fill='#333333' textLength='7.17' lengthAdjust='spacingAndGlyphs' stroke='#333333' stroke-width='0.1'>3.5</text>
<text x='583.09' y='331.57' font-size='6.0' text-anchor='middle' fill='#333333' textLength='7.17' lengthAdjust='spacingAndGlyphs' stroke='#333333' stroke-width='0.1'>7.1</text>
<text x='583.09' y='324.73' font-size='6.0' text-anchor='middle' fill='#333333' textLength='10.04' lengthAdjust='spacingAndGlyphs' stroke='#333333' stroke-width='0.1'>10.6</text>
<text x='583.09' y='314.08' font-size='6.0' text-anchor='middle' fill='#333333' textLength='10.04' lengthAdjust='spacingAndGlyphs' stroke='#333333' stroke-width='0.1'>16.5</text>
<text x='583.09' y='302.28' font-size='6.0' text-anchor='middle' fill='#333333' textLength='10.04' lengthAdjust='spacingAndGlyphs' stroke='#333333' stroke-width='0.1'>12.9</text>
<text x='583.09' y='285.21' font-size='6.0' text-anchor='middle' fill='#333333' textLength='10.04' lengthAdjust='spacingAndGlyphs' stroke='#333333' stroke-width='0.1'>29.4</text>
<text x='583.09' y='269.60' font-size='6.0' text-anchor='middle' fill='#333333' textLength='7.17' lengthAdjust='spacingAndGlyphs' stroke='#333333' stroke-width='0.1'>9.4</text>
<text x='583.09' y='354.30' font-size='6.0' text-anchor='middle' fill='#404040' textLength='14.43' lengthAdjust='spacingAndGlyphs' stroke='#404040' stroke-width='0.12'>Omani</text>
<rect x='607.96' y='338.18' width='12.20' height='5.03' fill='#C0504D'/>
<rect x='607.96' y='333.15' width='12.20' height='5.03' fill='#8064A2'/>
<rect x='607.96' y='328.13' width='12.20' height='5.03' fill='#4BACC6'/>
<rect x='607.96' y='323.10' width='12.20' height='5.03' fill='#F79646'/>
<rect x='607.96' y='318.08' width='12.20' height='5.03' fill='#2C4D75'/>
<rect x='607.96' y='308.11' width='12.20' height='9.98' fill='#772C2A'/>
<rect x='607.96' y='288.17' width='12.20' height='19.95' fill='#5F7530'/>
<rect x='607.96' y='268.22' width='12.20' height='19.95' fill='#D99694'/>
<rect x='607.96' y='263.20' width='12.20' height='5.03' fill='#276A7C'/>
<text x='614.06' y='343.39' font-size='6.0' text-anchor='middle' fill='#333333' textLength='7.17' lengthAdjust='spacingAndGlyphs' stroke='#333333' stroke-width='0.1'>6.3</text>
<text x='614.06' y='338.36' font-size='6.0' text-anchor='middle' fill='#333333' textLength='7.17' lengthAdjust='spacingAndGlyphs' stroke='#333333' stroke-width='0.1'>6.3</text>
<text x='614.06' y='333.34' font-size='6.0' text-anchor='middle' fill='#333333' textLength='7.17' lengthAdjust='spacingAndGlyphs' stroke='#333333' stroke-width='0.1'>6.3</text>
<text x='614.06' y='328.31' font-size='6.0' text-anchor='middle' fill='#333333' textLength='7.17' lengthAdjust='spacingAndGlyphs' stroke='#333333' stroke-width='0.1'>6.3</text>
<text x='614.06' y='323.29' font-size='6.0' text-anchor='middle' fill='#333333' textLength='7.17' lengthAdjust='spacingAndGlyphs' stroke='#333333' stroke-width='0.1'>6.3</text>
<text x='614.06' y='315.79' font-size='6.0' text-anchor='middle' fill='#333333' textLength='10.04' lengthAdjust='spacingAndGlyphs' stroke='#333333' stroke-width='0.1'>12.5</text>
<text x='614.06' y='300.84' font-size='6.0' text-anchor='middle' fill='#333333' textLength='5.74' lengthAdjust='spacingAndGlyphs' stroke='#333333' stroke-width='0.1'>25</text>
<text x='614.06' y='280.90' font-size='6.0' text-anchor='middle' fill='#333333' textLength='5.74' lengthAdjust='spacingAndGlyphs' stroke='#333333' stroke-width='0.1'>25</text>
<text x='614.06' y='268.41' font-size='6.0' text-anchor='middle' fill='#333333' textLength='7.17' lengthAdjust='spacingAndGlyphs' stroke='#333333' stroke-width='0.1'>6.3</text>
<text x='614.06' y='354.30' font-size='6.0' text-anchor='middle' fill='#404040' textLength='19.88' lengthAdjust='spacingAndGlyphs' stroke='#404040' stroke-width='0.12'>Pakistani</text>
<rect x='638.93' y='340.72' width='12.20' height='2.49' fill='#4F81BD'/>
<rect x='638.93' y='339.72' width='12.20' height='1.01' fill='#C0504D'/>
<rect x='638.93' y='334.84' width='12.20' height='4.89' fill='#9BBB59'/>
<rect x='638.93' y='313.02' width='12.20' height='21.82' fill='#8064A2'/>
<rect x='638.93' y='311.10' width='12.20' height='1.93' fill='#F79646'/>
<rect x='638.93' y='307.30' width='12.20' height='3.81' fill='#2C4D75'/>
<rect x='638.93' y='277.21' width='12.20' height='30.11' fill='#772C2A'/>
<rect x='638.93' y='270.60' width='12.20' height='6.61' fill='#5F7530'/>
<rect x='638.93' y='263.20' width='12.20' height='7.41' fill='#D99694'/>
<text x='645.03' y='344.66' font-size='6.0' text-anchor='middle' fill='#333333' textLength='7.17' lengthAdjust='spacingAndGlyphs' stroke='#333333' stroke-width='0.1'>2.4</text>
<text x='645.03' y='339.98' font-size='6.0' text-anchor='middle' fill='#333333' textLength='7.17' lengthAdjust='spacingAndGlyphs' stroke='#333333' stroke-width='0.1'>6.3</text>
<text x='645.03' y='326.63' font-size='6.0' text-anchor='middle' fill='#333333' textLength='10.04' lengthAdjust='spacingAndGlyphs' stroke='#333333' stroke-width='0.1'>26.6</text>
<text x='645.03' y='314.76' font-size='6.0' text-anchor='middle' fill='#333333' textLength='7.17' lengthAdjust='spacingAndGlyphs' stroke='#333333' stroke-width='0.1'>1.6</text>
<text x='645.03' y='311.90' font-size='6.0' text-anchor='middle' fill='#333333' textLength='7.17' lengthAdjust='spacingAndGlyphs' stroke='#333333' stroke-width='0.1'>4.7</text>
<text x='645.03' y='294.95' font-size='6.0' text-anchor='middle' fill='#333333' textLength='10.04' lengthAdjust='spacingAndGlyphs' stroke='#333333' stroke-width='0.1'>37.5</text>
<text x='645.03' y='276.61' font-size='6.0' text-anchor='middle' fill='#333333' textLength='7.17' lengthAdjust='spacingAndGlyphs' stroke='#333333' stroke-width='0.1'>7.8</text>
<text x='645.03' y='269.60' font-size='6.0' text-anchor='middle' fill='#333333' textLength='7.17' lengthAdjust='spacingAndGlyphs' stroke='#333333' stroke-width='0.1'>9.4</text>
<text x='645.03' y='354.30' font-size='6.0' text-anchor='middle' fill='#404040' textLength='26.96' lengthAdjust='spacingAndGlyphs' stroke='#404040' stroke-width='0.12'>Rare breeds</text>
<rect x='14.00' y='383.2' width='4.2' height='4.2' fill='#4F81BD'/>
<text x='20.10' y='387.90' font-size='7.2' text-anchor='start' fill='#404040' textLength='39.60' lengthAdjust='spacingAndGlyphs' stroke='#404040' stroke-width='0.05'>No Feather %</text>
<rect x='72.00' y='383.2' width='4.2' height='4.2' fill='#C0504D'/>
<text x='76.50' y='387.90' font-size='7.2' text-anchor='start' fill='#404040' textLength='25.00' lengthAdjust='spacingAndGlyphs' stroke='#404040' stroke-width='0.05'>White %</text>
<rect x='113.00' y='383.2' width='4.2' height='4.2' fill='#9BBB59'/>
<text x='119.00' y='387.90' font-size='7.2' text-anchor='start' fill='#404040' textLength='21.50' lengthAdjust='spacingAndGlyphs' stroke='#404040' stroke-width='0.05'>Black %</text>
<rect x='152.90' y='383.2' width='4.2' height='4.2' fill='#8064A2'/>
<text x='158.60' y='387.90' font-size='7.2' text-anchor='start' fill='#404040' textLength='50.40' lengthAdjust='spacingAndGlyphs' stroke='#404040' stroke-width='0.05'>Reddish brown %</text>
<rect x='221.00' y='383.2' width='4.2' height='4.2' fill='#4BACC6'/>
<text x='226.50' y='387.90' font-size='7.2' text-anchor='start' fill='#404040' textLength='41.50' lengthAdjust='spacingAndGlyphs' stroke='#404040' stroke-width='0.05'>Light brown %</text>
<rect x='280.70' y='383.2' width='4.2' height='4.2' fill='#2C4D75'/>
<text x='286.00' y='387.90' font-size='7.2' text-anchor='start' fill='#404040' textLength='44.00' lengthAdjust='spacingAndGlyphs' stroke='#404040' stroke-width='0.05'>Mixed colors %</text>
<rect x='342.00' y='383.2' width='4.2' height='4.2' fill='#772C2A'/>
<text x='347.70' y='387.90' font-size='7.2' text-anchor='start' fill='#404040' textLength='46.80' lengthAdjust='spacingAndGlyphs' stroke='#404040' stroke-width='0.05'>Black &amp; white %</text>
<rect x='406.50' y='383.2' width='4.2' height='4.2' fill='#5F7530'/>
<text x='411.90' y='387.90' font-size='7.2' text-anchor='start' fill='#404040' textLength='49.90' lengthAdjust='spacingAndGlyphs' stroke='#404040' stroke-width='0.05'>Black &amp; Brown %</text>
<rect x='472.70' y='383.2' width='4.2' height='4.2' fill='#D99694'/>
<text x='478.00' y='387.90' font-size='7.2' text-anchor='start' fill='#404040' textLength='42.80' lengthAdjust='spacingAndGlyphs' stroke='#404040' stroke-width='0.05'>Dark brown %</text>
<rect x='533.00' y='383.2' width='4.2' height='4.2' fill='#276A7C'/>
<text x='537.60' y='387.90' font-size='7.2' text-anchor='start' fill='#404040' textLength='52.40' lengthAdjust='spacingAndGlyphs' stroke='#404040' stroke-width='0.05'>Brown &amp; cream %</text>
<rect x='602.00' y='383.2' width='4.2' height='4.2' fill='#B65708'/>
<text x='607.80' y='387.90' font-size='7.2' text-anchor='start' fill='#404040' textLength='48.20' lengthAdjust='spacingAndGlyphs' stroke='#404040' stroke-width='0.05'>Black &amp; cream %</text>
<rect x='38' y='375' width='3' height='1' fill='#EEEEEE'/>
<rect x='0' y='0' width='666' height='1' fill='#A0A0A0'/>
<rect x='0' y='392' width='666' height='1' fill='#9A9A9A'/>
<rect x='0' y='0' width='1' height='393' fill='#A0A0A0'/>
<rect x='665' y='0' width='1' height='393' fill='#959595'/>
</svg></div></body></html>
